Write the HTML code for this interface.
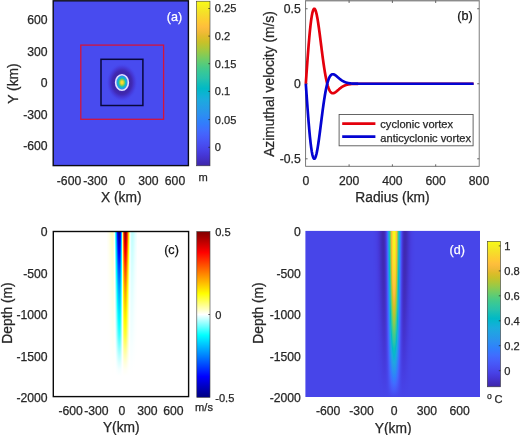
<!DOCTYPE html>
<html><head><meta charset="utf-8"><title>Figure</title>
<style>html,body{margin:0;padding:0;background:#fff}svg{display:block}text{stroke:#262626;stroke-width:0.25px;paint-order:stroke}text.w{stroke:#fff}text.k{stroke:#111}</style></head>
<body>
<svg width="520" height="435" viewBox="0 0 520 435" font-family="'Liberation Sans', Arial, sans-serif" fill="#262626" stroke="none">
<defs>
<radialGradient id="halo"><stop offset="0.36" stop-color="#4536d3"/><stop offset="0.50" stop-color="#3e26a8"/><stop offset="0.62" stop-color="#402ab4"/><stop offset="0.74" stop-color="#4536d3"/><stop offset="0.87" stop-color="#4745e9"/><stop offset="1" stop-color="#484bef" stop-opacity="0"/></radialGradient>
<radialGradient id="core"><stop offset="0" stop-color="#f6f020"/><stop offset="0.18" stop-color="#fad42e"/><stop offset="0.4" stop-color="#8dcb4f"/><stop offset="0.6" stop-color="#12beb9"/><stop offset="0.8" stop-color="#249fe6"/><stop offset="1" stop-color="#347afd"/></radialGradient>
<linearGradient id="cba" x1="0" y1="0" x2="0" y2="1"><stop offset="0.0000" stop-color="#f9fb15"/><stop offset="0.0312" stop-color="#f6ef20"/><stop offset="0.0625" stop-color="#f5e327"/><stop offset="0.0938" stop-color="#f9d62d"/><stop offset="0.1250" stop-color="#feca33"/><stop offset="0.1562" stop-color="#febe3c"/><stop offset="0.1875" stop-color="#f1ba37"/><stop offset="0.2188" stop-color="#debc2a"/><stop offset="0.2500" stop-color="#c8c129"/><stop offset="0.2812" stop-color="#afc637"/><stop offset="0.3125" stop-color="#94ca4a"/><stop offset="0.3438" stop-color="#77cc60"/><stop offset="0.3750" stop-color="#5ccc76"/><stop offset="0.4062" stop-color="#44ca8a"/><stop offset="0.4375" stop-color="#34c79c"/><stop offset="0.4688" stop-color="#28c2ab"/><stop offset="0.5000" stop-color="#12beb9"/><stop offset="0.5312" stop-color="#01b9c6"/><stop offset="0.5625" stop-color="#0cb3d3"/><stop offset="0.5938" stop-color="#1aacdd"/><stop offset="0.6250" stop-color="#21a3e3"/><stop offset="0.6562" stop-color="#269ae9"/><stop offset="0.6875" stop-color="#2c90f0"/><stop offset="0.7188" stop-color="#2e85f8"/><stop offset="0.7500" stop-color="#347afd"/><stop offset="0.7812" stop-color="#3f6efe"/><stop offset="0.8125" stop-color="#4562fc"/><stop offset="0.8438" stop-color="#4757f7"/><stop offset="0.8750" stop-color="#484cef"/><stop offset="0.9062" stop-color="#4741e5"/><stop offset="0.9375" stop-color="#4536d5"/><stop offset="0.9688" stop-color="#422ebf"/><stop offset="1.0000" stop-color="#3e26a8"/></linearGradient>
<linearGradient id="c7" x1="0" y1="0" x2="0" y2="1"><stop offset="0.0000" stop-color="#fffff6"/><stop offset="0.0417" stop-color="#fffff7"/><stop offset="0.0833" stop-color="#fffff8"/><stop offset="0.1250" stop-color="#fffff9"/><stop offset="0.1667" stop-color="#fffffa"/><stop offset="0.2083" stop-color="#fffffb"/><stop offset="0.2500" stop-color="#fffffb"/><stop offset="0.2917" stop-color="#fffffc"/><stop offset="0.3333" stop-color="#fffffc"/><stop offset="0.3750" stop-color="#fffffd"/><stop offset="0.4167" stop-color="#fffffd"/><stop offset="0.4583" stop-color="#fffffd"/><stop offset="0.5000" stop-color="#fffffe"/><stop offset="0.5417" stop-color="#fffffe"/><stop offset="0.5833" stop-color="#fffffe"/><stop offset="0.6250" stop-color="#fffffe"/><stop offset="0.6667" stop-color="#fffffe"/><stop offset="0.7083" stop-color="#ffffff"/><stop offset="0.7500" stop-color="#ffffff"/><stop offset="0.7917" stop-color="#ffffff"/><stop offset="0.8333" stop-color="#ffffff"/><stop offset="0.8750" stop-color="#ffffff"/><stop offset="0.9167" stop-color="#ffffff"/><stop offset="0.9583" stop-color="#ffffff"/><stop offset="1.0000" stop-color="#ffffff"/></linearGradient>
<linearGradient id="c8" x1="0" y1="0" x2="0" y2="1"><stop offset="0.0000" stop-color="#ffffee"/><stop offset="0.0417" stop-color="#fffff0"/><stop offset="0.0833" stop-color="#fffff2"/><stop offset="0.1250" stop-color="#fffff3"/><stop offset="0.1667" stop-color="#fffff5"/><stop offset="0.2083" stop-color="#fffff6"/><stop offset="0.2500" stop-color="#fffff7"/><stop offset="0.2917" stop-color="#fffff8"/><stop offset="0.3333" stop-color="#fffff9"/><stop offset="0.3750" stop-color="#fffffa"/><stop offset="0.4167" stop-color="#fffffb"/><stop offset="0.4583" stop-color="#fffffb"/><stop offset="0.5000" stop-color="#fffffc"/><stop offset="0.5417" stop-color="#fffffd"/><stop offset="0.5833" stop-color="#fffffd"/><stop offset="0.6250" stop-color="#fffffd"/><stop offset="0.6667" stop-color="#fffffe"/><stop offset="0.7083" stop-color="#fffffe"/><stop offset="0.7500" stop-color="#fffffe"/><stop offset="0.7917" stop-color="#ffffff"/><stop offset="0.8333" stop-color="#ffffff"/><stop offset="0.8750" stop-color="#ffffff"/><stop offset="0.9167" stop-color="#ffffff"/><stop offset="0.9583" stop-color="#ffffff"/><stop offset="1.0000" stop-color="#ffffff"/></linearGradient>
<linearGradient id="c9" x1="0" y1="0" x2="0" y2="1"><stop offset="0.0000" stop-color="#ffffe2"/><stop offset="0.0417" stop-color="#ffffe5"/><stop offset="0.0833" stop-color="#ffffe8"/><stop offset="0.1250" stop-color="#ffffea"/><stop offset="0.1667" stop-color="#ffffed"/><stop offset="0.2083" stop-color="#ffffef"/><stop offset="0.2500" stop-color="#fffff1"/><stop offset="0.2917" stop-color="#fffff3"/><stop offset="0.3333" stop-color="#fffff5"/><stop offset="0.3750" stop-color="#fffff6"/><stop offset="0.4167" stop-color="#fffff7"/><stop offset="0.4583" stop-color="#fffff8"/><stop offset="0.5000" stop-color="#fffff9"/><stop offset="0.5417" stop-color="#fffffa"/><stop offset="0.5833" stop-color="#fffffb"/><stop offset="0.6250" stop-color="#fffffc"/><stop offset="0.6667" stop-color="#fffffd"/><stop offset="0.7083" stop-color="#fffffd"/><stop offset="0.7500" stop-color="#fffffe"/><stop offset="0.7917" stop-color="#fffffe"/><stop offset="0.8333" stop-color="#ffffff"/><stop offset="0.8750" stop-color="#ffffff"/><stop offset="0.9167" stop-color="#ffffff"/><stop offset="0.9583" stop-color="#ffffff"/><stop offset="1.0000" stop-color="#ffffff"/></linearGradient>
<linearGradient id="c10" x1="0" y1="0" x2="0" y2="1"><stop offset="0.0000" stop-color="#ffffd2"/><stop offset="0.0417" stop-color="#ffffd6"/><stop offset="0.0833" stop-color="#ffffdb"/><stop offset="0.1250" stop-color="#ffffde"/><stop offset="0.1667" stop-color="#ffffe2"/><stop offset="0.2083" stop-color="#ffffe5"/><stop offset="0.2500" stop-color="#ffffe8"/><stop offset="0.2917" stop-color="#ffffeb"/><stop offset="0.3333" stop-color="#ffffee"/><stop offset="0.3750" stop-color="#fffff0"/><stop offset="0.4167" stop-color="#fffff2"/><stop offset="0.4583" stop-color="#fffff3"/><stop offset="0.5000" stop-color="#fffff5"/><stop offset="0.5417" stop-color="#fffff6"/><stop offset="0.5833" stop-color="#fffff8"/><stop offset="0.6250" stop-color="#fffff9"/><stop offset="0.6667" stop-color="#fffffa"/><stop offset="0.7083" stop-color="#fffffc"/><stop offset="0.7500" stop-color="#fffffd"/><stop offset="0.7917" stop-color="#fffffe"/><stop offset="0.8333" stop-color="#ffffff"/><stop offset="0.8750" stop-color="#ffffff"/><stop offset="0.9167" stop-color="#ffffff"/><stop offset="0.9583" stop-color="#ffffff"/><stop offset="1.0000" stop-color="#ffffff"/></linearGradient>
<linearGradient id="c11" x1="0" y1="0" x2="0" y2="1"><stop offset="0.0000" stop-color="#ffffc4"/><stop offset="0.0417" stop-color="#ffffc9"/><stop offset="0.0833" stop-color="#ffffce"/><stop offset="0.1250" stop-color="#ffffd2"/><stop offset="0.1667" stop-color="#ffffd7"/><stop offset="0.2083" stop-color="#ffffdb"/><stop offset="0.2500" stop-color="#ffffdf"/><stop offset="0.2917" stop-color="#ffffe3"/><stop offset="0.3333" stop-color="#ffffe6"/><stop offset="0.3750" stop-color="#ffffe9"/><stop offset="0.4167" stop-color="#ffffeb"/><stop offset="0.4583" stop-color="#ffffee"/><stop offset="0.5000" stop-color="#fffff0"/><stop offset="0.5417" stop-color="#fffff2"/><stop offset="0.5833" stop-color="#fffff4"/><stop offset="0.6250" stop-color="#fffff6"/><stop offset="0.6667" stop-color="#fffff8"/><stop offset="0.7083" stop-color="#fffffa"/><stop offset="0.7500" stop-color="#fffffc"/><stop offset="0.7917" stop-color="#fffffd"/><stop offset="0.8333" stop-color="#ffffff"/><stop offset="0.8750" stop-color="#ffffff"/><stop offset="0.9167" stop-color="#ffffff"/><stop offset="0.9583" stop-color="#ffffff"/><stop offset="1.0000" stop-color="#ffffff"/></linearGradient>
<linearGradient id="c12" x1="0" y1="0" x2="0" y2="1"><stop offset="0.0000" stop-color="#ffffbf"/><stop offset="0.0417" stop-color="#ffffc3"/><stop offset="0.0833" stop-color="#ffffc8"/><stop offset="0.1250" stop-color="#ffffcd"/><stop offset="0.1667" stop-color="#ffffd1"/><stop offset="0.2083" stop-color="#ffffd6"/><stop offset="0.2500" stop-color="#ffffda"/><stop offset="0.2917" stop-color="#ffffdd"/><stop offset="0.3333" stop-color="#ffffe1"/><stop offset="0.3750" stop-color="#ffffe4"/><stop offset="0.4167" stop-color="#ffffe7"/><stop offset="0.4583" stop-color="#ffffe9"/><stop offset="0.5000" stop-color="#ffffec"/><stop offset="0.5417" stop-color="#ffffee"/><stop offset="0.5833" stop-color="#fffff1"/><stop offset="0.6250" stop-color="#fffff3"/><stop offset="0.6667" stop-color="#fffff5"/><stop offset="0.7083" stop-color="#fffff8"/><stop offset="0.7500" stop-color="#fffffb"/><stop offset="0.7917" stop-color="#fffffd"/><stop offset="0.8333" stop-color="#fffffe"/><stop offset="0.8750" stop-color="#ffffff"/><stop offset="0.9167" stop-color="#ffffff"/><stop offset="0.9583" stop-color="#ffffff"/><stop offset="1.0000" stop-color="#ffffff"/></linearGradient>
<linearGradient id="c13" x1="0" y1="0" x2="0" y2="1"><stop offset="0.0000" stop-color="#ffffd1"/><stop offset="0.0417" stop-color="#ffffd3"/><stop offset="0.0833" stop-color="#ffffd5"/><stop offset="0.1250" stop-color="#ffffd8"/><stop offset="0.1667" stop-color="#ffffda"/><stop offset="0.2083" stop-color="#ffffdd"/><stop offset="0.2500" stop-color="#ffffe0"/><stop offset="0.2917" stop-color="#ffffe2"/><stop offset="0.3333" stop-color="#ffffe5"/><stop offset="0.3750" stop-color="#ffffe7"/><stop offset="0.4167" stop-color="#ffffe9"/><stop offset="0.4583" stop-color="#ffffeb"/><stop offset="0.5000" stop-color="#ffffed"/><stop offset="0.5417" stop-color="#ffffef"/><stop offset="0.5833" stop-color="#fffff1"/><stop offset="0.6250" stop-color="#fffff3"/><stop offset="0.6667" stop-color="#fffff5"/><stop offset="0.7083" stop-color="#fffff8"/><stop offset="0.7500" stop-color="#fffffa"/><stop offset="0.7917" stop-color="#fffffc"/><stop offset="0.8333" stop-color="#fffffe"/><stop offset="0.8750" stop-color="#ffffff"/><stop offset="0.9167" stop-color="#ffffff"/><stop offset="0.9583" stop-color="#ffffff"/><stop offset="1.0000" stop-color="#ffffff"/></linearGradient>
<linearGradient id="c14" x1="0" y1="0" x2="0" y2="1"><stop offset="0.0000" stop-color="#edffff"/><stop offset="0.0417" stop-color="#f4ffff"/><stop offset="0.0833" stop-color="#faffff"/><stop offset="0.1250" stop-color="#ffffff"/><stop offset="0.1667" stop-color="#fffffd"/><stop offset="0.2083" stop-color="#fffffb"/><stop offset="0.2500" stop-color="#fffffa"/><stop offset="0.2917" stop-color="#fffff9"/><stop offset="0.3333" stop-color="#fffff9"/><stop offset="0.3750" stop-color="#fffff8"/><stop offset="0.4167" stop-color="#fffff8"/><stop offset="0.4583" stop-color="#fffff8"/><stop offset="0.5000" stop-color="#fffff8"/><stop offset="0.5417" stop-color="#fffff8"/><stop offset="0.5833" stop-color="#fffff8"/><stop offset="0.6250" stop-color="#fffff9"/><stop offset="0.6667" stop-color="#fffffa"/><stop offset="0.7083" stop-color="#fffffb"/><stop offset="0.7500" stop-color="#fffffc"/><stop offset="0.7917" stop-color="#fffffd"/><stop offset="0.8333" stop-color="#ffffff"/><stop offset="0.8750" stop-color="#ffffff"/><stop offset="0.9167" stop-color="#ffffff"/><stop offset="0.9583" stop-color="#ffffff"/><stop offset="1.0000" stop-color="#ffffff"/></linearGradient>
<linearGradient id="c15" x1="0" y1="0" x2="0" y2="1"><stop offset="0.0000" stop-color="#27ffff"/><stop offset="0.0417" stop-color="#3fffff"/><stop offset="0.0833" stop-color="#55ffff"/><stop offset="0.1250" stop-color="#6affff"/><stop offset="0.1667" stop-color="#7dffff"/><stop offset="0.2083" stop-color="#8fffff"/><stop offset="0.2500" stop-color="#9effff"/><stop offset="0.2917" stop-color="#acffff"/><stop offset="0.3333" stop-color="#b8ffff"/><stop offset="0.3750" stop-color="#c3ffff"/><stop offset="0.4167" stop-color="#ccffff"/><stop offset="0.4583" stop-color="#d4ffff"/><stop offset="0.5000" stop-color="#dbffff"/><stop offset="0.5417" stop-color="#e1ffff"/><stop offset="0.5833" stop-color="#e7ffff"/><stop offset="0.6250" stop-color="#ecffff"/><stop offset="0.6667" stop-color="#f1ffff"/><stop offset="0.7083" stop-color="#f6ffff"/><stop offset="0.7500" stop-color="#faffff"/><stop offset="0.7917" stop-color="#fcffff"/><stop offset="0.8333" stop-color="#feffff"/><stop offset="0.8750" stop-color="#ffffff"/><stop offset="0.9167" stop-color="#ffffff"/><stop offset="0.9583" stop-color="#ffffff"/><stop offset="1.0000" stop-color="#ffffff"/></linearGradient>
<linearGradient id="c16" x1="0" y1="0" x2="0" y2="1"><stop offset="0.0000" stop-color="#008cff"/><stop offset="0.0417" stop-color="#00a2ff"/><stop offset="0.0833" stop-color="#00b7ff"/><stop offset="0.1250" stop-color="#00cbff"/><stop offset="0.1667" stop-color="#00deff"/><stop offset="0.2083" stop-color="#00f1ff"/><stop offset="0.2500" stop-color="#03ffff"/><stop offset="0.2917" stop-color="#20ffff"/><stop offset="0.3333" stop-color="#3cffff"/><stop offset="0.3750" stop-color="#54ffff"/><stop offset="0.4167" stop-color="#68ffff"/><stop offset="0.4583" stop-color="#7bffff"/><stop offset="0.5000" stop-color="#8dffff"/><stop offset="0.5417" stop-color="#9cffff"/><stop offset="0.5833" stop-color="#abffff"/><stop offset="0.6250" stop-color="#b8ffff"/><stop offset="0.6667" stop-color="#c9ffff"/><stop offset="0.7083" stop-color="#d9ffff"/><stop offset="0.7500" stop-color="#e7ffff"/><stop offset="0.7917" stop-color="#f3ffff"/><stop offset="0.8333" stop-color="#fbffff"/><stop offset="0.8750" stop-color="#ffffff"/><stop offset="0.9167" stop-color="#ffffff"/><stop offset="0.9583" stop-color="#ffffff"/><stop offset="1.0000" stop-color="#ffffff"/></linearGradient>
<linearGradient id="c17" x1="0" y1="0" x2="0" y2="1"><stop offset="0.0000" stop-color="#0000fd"/><stop offset="0.0417" stop-color="#001eff"/><stop offset="0.0833" stop-color="#003dff"/><stop offset="0.1250" stop-color="#005bff"/><stop offset="0.1667" stop-color="#0077ff"/><stop offset="0.2083" stop-color="#0093ff"/><stop offset="0.2500" stop-color="#00abff"/><stop offset="0.2917" stop-color="#00c1ff"/><stop offset="0.3333" stop-color="#00d7ff"/><stop offset="0.3750" stop-color="#00eaff"/><stop offset="0.4167" stop-color="#00f9ff"/><stop offset="0.4583" stop-color="#13ffff"/><stop offset="0.5000" stop-color="#31ffff"/><stop offset="0.5417" stop-color="#4affff"/><stop offset="0.5833" stop-color="#63ffff"/><stop offset="0.6250" stop-color="#7bffff"/><stop offset="0.6667" stop-color="#99ffff"/><stop offset="0.7083" stop-color="#b6ffff"/><stop offset="0.7500" stop-color="#d0ffff"/><stop offset="0.7917" stop-color="#e6ffff"/><stop offset="0.8333" stop-color="#f8ffff"/><stop offset="0.8750" stop-color="#ffffff"/><stop offset="0.9167" stop-color="#ffffff"/><stop offset="0.9583" stop-color="#ffffff"/><stop offset="1.0000" stop-color="#ffffff"/></linearGradient>
<linearGradient id="c18" x1="0" y1="0" x2="0" y2="1"><stop offset="0.0000" stop-color="#000096"/><stop offset="0.0417" stop-color="#0000bc"/><stop offset="0.0833" stop-color="#0000e2"/><stop offset="0.1250" stop-color="#0006ff"/><stop offset="0.1667" stop-color="#0029ff"/><stop offset="0.2083" stop-color="#004bff"/><stop offset="0.2500" stop-color="#0069ff"/><stop offset="0.2917" stop-color="#0085ff"/><stop offset="0.3333" stop-color="#00a0ff"/><stop offset="0.3750" stop-color="#00b8ff"/><stop offset="0.4167" stop-color="#00cbff"/><stop offset="0.4583" stop-color="#00dfff"/><stop offset="0.5000" stop-color="#00f2ff"/><stop offset="0.5417" stop-color="#06ffff"/><stop offset="0.5833" stop-color="#26ffff"/><stop offset="0.6250" stop-color="#46ffff"/><stop offset="0.6667" stop-color="#6fffff"/><stop offset="0.7083" stop-color="#98ffff"/><stop offset="0.7500" stop-color="#bcffff"/><stop offset="0.7917" stop-color="#dbffff"/><stop offset="0.8333" stop-color="#f4ffff"/><stop offset="0.8750" stop-color="#ffffff"/><stop offset="0.9167" stop-color="#ffffff"/><stop offset="0.9583" stop-color="#ffffff"/><stop offset="1.0000" stop-color="#ffffff"/></linearGradient>
<linearGradient id="c19" x1="0" y1="0" x2="0" y2="1"><stop offset="0.0000" stop-color="#000086"/><stop offset="0.0417" stop-color="#0000ab"/><stop offset="0.0833" stop-color="#0000d1"/><stop offset="0.1250" stop-color="#0000f4"/><stop offset="0.1667" stop-color="#0018ff"/><stop offset="0.2083" stop-color="#003bff"/><stop offset="0.2500" stop-color="#0059ff"/><stop offset="0.2917" stop-color="#0075ff"/><stop offset="0.3333" stop-color="#0091ff"/><stop offset="0.3750" stop-color="#00a9ff"/><stop offset="0.4167" stop-color="#00beff"/><stop offset="0.4583" stop-color="#00d2ff"/><stop offset="0.5000" stop-color="#00e6ff"/><stop offset="0.5417" stop-color="#00f7ff"/><stop offset="0.5833" stop-color="#11ffff"/><stop offset="0.6250" stop-color="#33ffff"/><stop offset="0.6667" stop-color="#60ffff"/><stop offset="0.7083" stop-color="#8cffff"/><stop offset="0.7500" stop-color="#b4ffff"/><stop offset="0.7917" stop-color="#d7ffff"/><stop offset="0.8333" stop-color="#f3ffff"/><stop offset="0.8750" stop-color="#ffffff"/><stop offset="0.9167" stop-color="#ffffff"/><stop offset="0.9583" stop-color="#ffffff"/><stop offset="1.0000" stop-color="#ffffff"/></linearGradient>
<linearGradient id="c20" x1="0" y1="0" x2="0" y2="1"><stop offset="0.0000" stop-color="#0000e7"/><stop offset="0.0417" stop-color="#0005ff"/><stop offset="0.0833" stop-color="#0023ff"/><stop offset="0.1250" stop-color="#003fff"/><stop offset="0.1667" stop-color="#005bff"/><stop offset="0.2083" stop-color="#0076ff"/><stop offset="0.2500" stop-color="#008eff"/><stop offset="0.2917" stop-color="#00a5ff"/><stop offset="0.3333" stop-color="#00bbff"/><stop offset="0.3750" stop-color="#00cfff"/><stop offset="0.4167" stop-color="#00dfff"/><stop offset="0.4583" stop-color="#00efff"/><stop offset="0.5000" stop-color="#01ffff"/><stop offset="0.5417" stop-color="#1cffff"/><stop offset="0.5833" stop-color="#38ffff"/><stop offset="0.6250" stop-color="#54ffff"/><stop offset="0.6667" stop-color="#79ffff"/><stop offset="0.7083" stop-color="#9effff"/><stop offset="0.7500" stop-color="#bfffff"/><stop offset="0.7917" stop-color="#ddffff"/><stop offset="0.8333" stop-color="#f5ffff"/><stop offset="0.8750" stop-color="#ffffff"/><stop offset="0.9167" stop-color="#ffffff"/><stop offset="0.9583" stop-color="#ffffff"/><stop offset="1.0000" stop-color="#ffffff"/></linearGradient>
<linearGradient id="c21" x1="0" y1="0" x2="0" y2="1"><stop offset="0.0000" stop-color="#00b2ff"/><stop offset="0.0417" stop-color="#00c0ff"/><stop offset="0.0833" stop-color="#00cfff"/><stop offset="0.1250" stop-color="#00ddff"/><stop offset="0.1667" stop-color="#00ebff"/><stop offset="0.2083" stop-color="#00f8ff"/><stop offset="0.2500" stop-color="#0bffff"/><stop offset="0.2917" stop-color="#21ffff"/><stop offset="0.3333" stop-color="#38ffff"/><stop offset="0.3750" stop-color="#4bffff"/><stop offset="0.4167" stop-color="#5cffff"/><stop offset="0.4583" stop-color="#6cffff"/><stop offset="0.5000" stop-color="#7dffff"/><stop offset="0.5417" stop-color="#8bffff"/><stop offset="0.5833" stop-color="#99ffff"/><stop offset="0.6250" stop-color="#a7ffff"/><stop offset="0.6667" stop-color="#baffff"/><stop offset="0.7083" stop-color="#cdffff"/><stop offset="0.7500" stop-color="#deffff"/><stop offset="0.7917" stop-color="#edffff"/><stop offset="0.8333" stop-color="#faffff"/><stop offset="0.8750" stop-color="#ffffff"/><stop offset="0.9167" stop-color="#ffffff"/><stop offset="0.9583" stop-color="#ffffff"/><stop offset="1.0000" stop-color="#ffffff"/></linearGradient>
<linearGradient id="c22" x1="0" y1="0" x2="0" y2="1"><stop offset="0.0000" stop-color="#ffff96"/><stop offset="0.0417" stop-color="#ffff9d"/><stop offset="0.0833" stop-color="#ffffa5"/><stop offset="0.1250" stop-color="#ffffac"/><stop offset="0.1667" stop-color="#ffffb3"/><stop offset="0.2083" stop-color="#ffffba"/><stop offset="0.2500" stop-color="#ffffc0"/><stop offset="0.2917" stop-color="#ffffc6"/><stop offset="0.3333" stop-color="#ffffcc"/><stop offset="0.3750" stop-color="#ffffd1"/><stop offset="0.4167" stop-color="#ffffd5"/><stop offset="0.4583" stop-color="#ffffd9"/><stop offset="0.5000" stop-color="#ffffdd"/><stop offset="0.5417" stop-color="#ffffe1"/><stop offset="0.5833" stop-color="#ffffe5"/><stop offset="0.6250" stop-color="#ffffe8"/><stop offset="0.6667" stop-color="#ffffed"/><stop offset="0.7083" stop-color="#fffff2"/><stop offset="0.7500" stop-color="#fffff6"/><stop offset="0.7917" stop-color="#fffffa"/><stop offset="0.8333" stop-color="#fffffe"/><stop offset="0.8750" stop-color="#ffffff"/><stop offset="0.9167" stop-color="#ffffff"/><stop offset="0.9583" stop-color="#ffffff"/><stop offset="1.0000" stop-color="#ffffff"/></linearGradient>
<linearGradient id="c23" x1="0" y1="0" x2="0" y2="1"><stop offset="0.0000" stop-color="#ff5700"/><stop offset="0.0417" stop-color="#ff6c00"/><stop offset="0.0833" stop-color="#ff8100"/><stop offset="0.1250" stop-color="#ff9500"/><stop offset="0.1667" stop-color="#ffa900"/><stop offset="0.2083" stop-color="#ffbd00"/><stop offset="0.2500" stop-color="#ffcf00"/><stop offset="0.2917" stop-color="#ffdf00"/><stop offset="0.3333" stop-color="#ffef00"/><stop offset="0.3750" stop-color="#fffd00"/><stop offset="0.4167" stop-color="#ffff14"/><stop offset="0.4583" stop-color="#ffff2c"/><stop offset="0.5000" stop-color="#ffff44"/><stop offset="0.5417" stop-color="#ffff58"/><stop offset="0.5833" stop-color="#ffff6c"/><stop offset="0.6250" stop-color="#ffff81"/><stop offset="0.6667" stop-color="#ffff9c"/><stop offset="0.7083" stop-color="#ffffb7"/><stop offset="0.7500" stop-color="#ffffd0"/><stop offset="0.7917" stop-color="#ffffe6"/><stop offset="0.8333" stop-color="#fffff7"/><stop offset="0.8750" stop-color="#ffffff"/><stop offset="0.9167" stop-color="#ffffff"/><stop offset="0.9583" stop-color="#ffffff"/><stop offset="1.0000" stop-color="#ffffff"/></linearGradient>
<linearGradient id="c24" x1="0" y1="0" x2="0" y2="1"><stop offset="0.0000" stop-color="#b20000"/><stop offset="0.0417" stop-color="#d40000"/><stop offset="0.0833" stop-color="#f50000"/><stop offset="0.1250" stop-color="#ff1600"/><stop offset="0.1667" stop-color="#ff3600"/><stop offset="0.2083" stop-color="#ff5500"/><stop offset="0.2500" stop-color="#ff7000"/><stop offset="0.2917" stop-color="#ff8a00"/><stop offset="0.3333" stop-color="#ffa300"/><stop offset="0.3750" stop-color="#ffb900"/><stop offset="0.4167" stop-color="#ffcc00"/><stop offset="0.4583" stop-color="#ffde00"/><stop offset="0.5000" stop-color="#fff000"/><stop offset="0.5417" stop-color="#ffff02"/><stop offset="0.5833" stop-color="#ffff21"/><stop offset="0.6250" stop-color="#ffff40"/><stop offset="0.6667" stop-color="#ffff6a"/><stop offset="0.7083" stop-color="#ffff93"/><stop offset="0.7500" stop-color="#ffffb8"/><stop offset="0.7917" stop-color="#ffffd9"/><stop offset="0.8333" stop-color="#fffff4"/><stop offset="0.8750" stop-color="#ffffff"/><stop offset="0.9167" stop-color="#ffffff"/><stop offset="0.9583" stop-color="#ffffff"/><stop offset="1.0000" stop-color="#ffffff"/></linearGradient>
<linearGradient id="c25" x1="0" y1="0" x2="0" y2="1"><stop offset="0.0000" stop-color="#800000"/><stop offset="0.0417" stop-color="#a60000"/><stop offset="0.0833" stop-color="#cc0000"/><stop offset="0.1250" stop-color="#f10000"/><stop offset="0.1667" stop-color="#ff1600"/><stop offset="0.2083" stop-color="#ff3900"/><stop offset="0.2500" stop-color="#ff5800"/><stop offset="0.2917" stop-color="#ff7400"/><stop offset="0.3333" stop-color="#ff9100"/><stop offset="0.3750" stop-color="#ffa900"/><stop offset="0.4167" stop-color="#ffbe00"/><stop offset="0.4583" stop-color="#ffd200"/><stop offset="0.5000" stop-color="#ffe700"/><stop offset="0.5417" stop-color="#fff800"/><stop offset="0.5833" stop-color="#ffff13"/><stop offset="0.6250" stop-color="#ffff35"/><stop offset="0.6667" stop-color="#ffff61"/><stop offset="0.7083" stop-color="#ffff8e"/><stop offset="0.7500" stop-color="#ffffb5"/><stop offset="0.7917" stop-color="#ffffd8"/><stop offset="0.8333" stop-color="#fffff3"/><stop offset="0.8750" stop-color="#ffffff"/><stop offset="0.9167" stop-color="#ffffff"/><stop offset="0.9583" stop-color="#ffffff"/><stop offset="1.0000" stop-color="#ffffff"/></linearGradient>
<linearGradient id="c26" x1="0" y1="0" x2="0" y2="1"><stop offset="0.0000" stop-color="#b80000"/><stop offset="0.0417" stop-color="#dc0000"/><stop offset="0.0833" stop-color="#ff0000"/><stop offset="0.1250" stop-color="#ff2200"/><stop offset="0.1667" stop-color="#ff4300"/><stop offset="0.2083" stop-color="#ff6300"/><stop offset="0.2500" stop-color="#ff7f00"/><stop offset="0.2917" stop-color="#ff9900"/><stop offset="0.3333" stop-color="#ffb300"/><stop offset="0.3750" stop-color="#ffc900"/><stop offset="0.4167" stop-color="#ffdb00"/><stop offset="0.4583" stop-color="#ffed00"/><stop offset="0.5000" stop-color="#ffff00"/><stop offset="0.5417" stop-color="#ffff1e"/><stop offset="0.5833" stop-color="#ffff3b"/><stop offset="0.6250" stop-color="#ffff58"/><stop offset="0.6667" stop-color="#ffff7e"/><stop offset="0.7083" stop-color="#ffffa2"/><stop offset="0.7500" stop-color="#ffffc3"/><stop offset="0.7917" stop-color="#ffffdf"/><stop offset="0.8333" stop-color="#fffff5"/><stop offset="0.8750" stop-color="#ffffff"/><stop offset="0.9167" stop-color="#ffffff"/><stop offset="0.9583" stop-color="#ffffff"/><stop offset="1.0000" stop-color="#ffffff"/></linearGradient>
<linearGradient id="c27" x1="0" y1="0" x2="0" y2="1"><stop offset="0.0000" stop-color="#ff3500"/><stop offset="0.0417" stop-color="#ff5100"/><stop offset="0.0833" stop-color="#ff6d00"/><stop offset="0.1250" stop-color="#ff8700"/><stop offset="0.1667" stop-color="#ffa000"/><stop offset="0.2083" stop-color="#ffb800"/><stop offset="0.2500" stop-color="#ffcd00"/><stop offset="0.2917" stop-color="#ffe000"/><stop offset="0.3333" stop-color="#fff300"/><stop offset="0.3750" stop-color="#ffff08"/><stop offset="0.4167" stop-color="#ffff22"/><stop offset="0.4583" stop-color="#ffff3d"/><stop offset="0.5000" stop-color="#ffff56"/><stop offset="0.5417" stop-color="#ffff6b"/><stop offset="0.5833" stop-color="#ffff80"/><stop offset="0.6250" stop-color="#ffff94"/><stop offset="0.6667" stop-color="#ffffac"/><stop offset="0.7083" stop-color="#ffffc4"/><stop offset="0.7500" stop-color="#ffffd9"/><stop offset="0.7917" stop-color="#ffffeb"/><stop offset="0.8333" stop-color="#fffff9"/><stop offset="0.8750" stop-color="#ffffff"/><stop offset="0.9167" stop-color="#ffffff"/><stop offset="0.9583" stop-color="#ffffff"/><stop offset="1.0000" stop-color="#ffffff"/></linearGradient>
<linearGradient id="c28" x1="0" y1="0" x2="0" y2="1"><stop offset="0.0000" stop-color="#ffc500"/><stop offset="0.0417" stop-color="#ffd600"/><stop offset="0.0833" stop-color="#ffe800"/><stop offset="0.1250" stop-color="#fff800"/><stop offset="0.1667" stop-color="#ffff10"/><stop offset="0.2083" stop-color="#ffff2d"/><stop offset="0.2500" stop-color="#ffff46"/><stop offset="0.2917" stop-color="#ffff5c"/><stop offset="0.3333" stop-color="#ffff72"/><stop offset="0.3750" stop-color="#ffff84"/><stop offset="0.4167" stop-color="#ffff93"/><stop offset="0.4583" stop-color="#ffffa1"/><stop offset="0.5000" stop-color="#ffffaf"/><stop offset="0.5417" stop-color="#ffffba"/><stop offset="0.5833" stop-color="#ffffc5"/><stop offset="0.6250" stop-color="#ffffcf"/><stop offset="0.6667" stop-color="#ffffdb"/><stop offset="0.7083" stop-color="#ffffe6"/><stop offset="0.7500" stop-color="#ffffef"/><stop offset="0.7917" stop-color="#fffff7"/><stop offset="0.8333" stop-color="#fffffd"/><stop offset="0.8750" stop-color="#ffffff"/><stop offset="0.9167" stop-color="#ffffff"/><stop offset="0.9583" stop-color="#ffffff"/><stop offset="1.0000" stop-color="#ffffff"/></linearGradient>
<linearGradient id="c29" x1="0" y1="0" x2="0" y2="1"><stop offset="0.0000" stop-color="#ffff81"/><stop offset="0.0417" stop-color="#ffff91"/><stop offset="0.0833" stop-color="#ffffa0"/><stop offset="0.1250" stop-color="#ffffae"/><stop offset="0.1667" stop-color="#ffffba"/><stop offset="0.2083" stop-color="#ffffc6"/><stop offset="0.2500" stop-color="#ffffcf"/><stop offset="0.2917" stop-color="#ffffd8"/><stop offset="0.3333" stop-color="#ffffdf"/><stop offset="0.3750" stop-color="#ffffe5"/><stop offset="0.4167" stop-color="#ffffeb"/><stop offset="0.4583" stop-color="#ffffef"/><stop offset="0.5000" stop-color="#fffff3"/><stop offset="0.5417" stop-color="#fffff6"/><stop offset="0.5833" stop-color="#fffff9"/><stop offset="0.6250" stop-color="#fffffb"/><stop offset="0.6667" stop-color="#fffffd"/><stop offset="0.7083" stop-color="#fffffe"/><stop offset="0.7500" stop-color="#ffffff"/><stop offset="0.7917" stop-color="#ffffff"/><stop offset="0.8333" stop-color="#ffffff"/><stop offset="0.8750" stop-color="#ffffff"/><stop offset="0.9167" stop-color="#ffffff"/><stop offset="0.9583" stop-color="#ffffff"/><stop offset="1.0000" stop-color="#ffffff"/></linearGradient>
<linearGradient id="c30" x1="0" y1="0" x2="0" y2="1"><stop offset="0.0000" stop-color="#edffff"/><stop offset="0.0417" stop-color="#ecffff"/><stop offset="0.0833" stop-color="#ebffff"/><stop offset="0.1250" stop-color="#ebffff"/><stop offset="0.1667" stop-color="#ebffff"/><stop offset="0.2083" stop-color="#ecffff"/><stop offset="0.2500" stop-color="#edffff"/><stop offset="0.2917" stop-color="#edffff"/><stop offset="0.3333" stop-color="#eeffff"/><stop offset="0.3750" stop-color="#efffff"/><stop offset="0.4167" stop-color="#f0ffff"/><stop offset="0.4583" stop-color="#f1ffff"/><stop offset="0.5000" stop-color="#f2ffff"/><stop offset="0.5417" stop-color="#f3ffff"/><stop offset="0.5833" stop-color="#f4ffff"/><stop offset="0.6250" stop-color="#f5ffff"/><stop offset="0.6667" stop-color="#f7ffff"/><stop offset="0.7083" stop-color="#f9ffff"/><stop offset="0.7500" stop-color="#fbffff"/><stop offset="0.7917" stop-color="#fdffff"/><stop offset="0.8333" stop-color="#feffff"/><stop offset="0.8750" stop-color="#ffffff"/><stop offset="0.9167" stop-color="#ffffff"/><stop offset="0.9583" stop-color="#ffffff"/><stop offset="1.0000" stop-color="#ffffff"/></linearGradient>
<linearGradient id="c31" x1="0" y1="0" x2="0" y2="1"><stop offset="0.0000" stop-color="#c6ffff"/><stop offset="0.0417" stop-color="#c9ffff"/><stop offset="0.0833" stop-color="#cdffff"/><stop offset="0.1250" stop-color="#d1ffff"/><stop offset="0.1667" stop-color="#d4ffff"/><stop offset="0.2083" stop-color="#d8ffff"/><stop offset="0.2500" stop-color="#dbffff"/><stop offset="0.2917" stop-color="#deffff"/><stop offset="0.3333" stop-color="#e2ffff"/><stop offset="0.3750" stop-color="#e4ffff"/><stop offset="0.4167" stop-color="#e7ffff"/><stop offset="0.4583" stop-color="#e9ffff"/><stop offset="0.5000" stop-color="#ecffff"/><stop offset="0.5417" stop-color="#eeffff"/><stop offset="0.5833" stop-color="#f0ffff"/><stop offset="0.6250" stop-color="#f2ffff"/><stop offset="0.6667" stop-color="#f5ffff"/><stop offset="0.7083" stop-color="#f8ffff"/><stop offset="0.7500" stop-color="#faffff"/><stop offset="0.7917" stop-color="#fcffff"/><stop offset="0.8333" stop-color="#feffff"/><stop offset="0.8750" stop-color="#ffffff"/><stop offset="0.9167" stop-color="#ffffff"/><stop offset="0.9583" stop-color="#ffffff"/><stop offset="1.0000" stop-color="#ffffff"/></linearGradient>
<linearGradient id="c32" x1="0" y1="0" x2="0" y2="1"><stop offset="0.0000" stop-color="#bfffff"/><stop offset="0.0417" stop-color="#c4ffff"/><stop offset="0.0833" stop-color="#c9ffff"/><stop offset="0.1250" stop-color="#ceffff"/><stop offset="0.1667" stop-color="#d2ffff"/><stop offset="0.2083" stop-color="#d7ffff"/><stop offset="0.2500" stop-color="#dbffff"/><stop offset="0.2917" stop-color="#dfffff"/><stop offset="0.3333" stop-color="#e2ffff"/><stop offset="0.3750" stop-color="#e5ffff"/><stop offset="0.4167" stop-color="#e8ffff"/><stop offset="0.4583" stop-color="#ebffff"/><stop offset="0.5000" stop-color="#edffff"/><stop offset="0.5417" stop-color="#f0ffff"/><stop offset="0.5833" stop-color="#f2ffff"/><stop offset="0.6250" stop-color="#f4ffff"/><stop offset="0.6667" stop-color="#f6ffff"/><stop offset="0.7083" stop-color="#f9ffff"/><stop offset="0.7500" stop-color="#fbffff"/><stop offset="0.7917" stop-color="#fdffff"/><stop offset="0.8333" stop-color="#feffff"/><stop offset="0.8750" stop-color="#ffffff"/><stop offset="0.9167" stop-color="#ffffff"/><stop offset="0.9583" stop-color="#ffffff"/><stop offset="1.0000" stop-color="#ffffff"/></linearGradient>
<linearGradient id="c33" x1="0" y1="0" x2="0" y2="1"><stop offset="0.0000" stop-color="#c9ffff"/><stop offset="0.0417" stop-color="#ceffff"/><stop offset="0.0833" stop-color="#d2ffff"/><stop offset="0.1250" stop-color="#d7ffff"/><stop offset="0.1667" stop-color="#dbffff"/><stop offset="0.2083" stop-color="#dfffff"/><stop offset="0.2500" stop-color="#e3ffff"/><stop offset="0.2917" stop-color="#e6ffff"/><stop offset="0.3333" stop-color="#e9ffff"/><stop offset="0.3750" stop-color="#ecffff"/><stop offset="0.4167" stop-color="#eeffff"/><stop offset="0.4583" stop-color="#f0ffff"/><stop offset="0.5000" stop-color="#f2ffff"/><stop offset="0.5417" stop-color="#f4ffff"/><stop offset="0.5833" stop-color="#f5ffff"/><stop offset="0.6250" stop-color="#f7ffff"/><stop offset="0.6667" stop-color="#f9ffff"/><stop offset="0.7083" stop-color="#fbffff"/><stop offset="0.7500" stop-color="#fcffff"/><stop offset="0.7917" stop-color="#feffff"/><stop offset="0.8333" stop-color="#ffffff"/><stop offset="0.8750" stop-color="#ffffff"/><stop offset="0.9167" stop-color="#ffffff"/><stop offset="0.9583" stop-color="#ffffff"/><stop offset="1.0000" stop-color="#ffffff"/></linearGradient>
<linearGradient id="c34" x1="0" y1="0" x2="0" y2="1"><stop offset="0.0000" stop-color="#d9ffff"/><stop offset="0.0417" stop-color="#dcffff"/><stop offset="0.0833" stop-color="#e0ffff"/><stop offset="0.1250" stop-color="#e3ffff"/><stop offset="0.1667" stop-color="#e7ffff"/><stop offset="0.2083" stop-color="#eaffff"/><stop offset="0.2500" stop-color="#ecffff"/><stop offset="0.2917" stop-color="#eeffff"/><stop offset="0.3333" stop-color="#f1ffff"/><stop offset="0.3750" stop-color="#f3ffff"/><stop offset="0.4167" stop-color="#f4ffff"/><stop offset="0.4583" stop-color="#f6ffff"/><stop offset="0.5000" stop-color="#f7ffff"/><stop offset="0.5417" stop-color="#f8ffff"/><stop offset="0.5833" stop-color="#f9ffff"/><stop offset="0.6250" stop-color="#faffff"/><stop offset="0.6667" stop-color="#fbffff"/><stop offset="0.7083" stop-color="#fcffff"/><stop offset="0.7500" stop-color="#fdffff"/><stop offset="0.7917" stop-color="#feffff"/><stop offset="0.8333" stop-color="#ffffff"/><stop offset="0.8750" stop-color="#ffffff"/><stop offset="0.9167" stop-color="#ffffff"/><stop offset="0.9583" stop-color="#ffffff"/><stop offset="1.0000" stop-color="#ffffff"/></linearGradient>
<linearGradient id="c35" x1="0" y1="0" x2="0" y2="1"><stop offset="0.0000" stop-color="#e7ffff"/><stop offset="0.0417" stop-color="#eaffff"/><stop offset="0.0833" stop-color="#ecffff"/><stop offset="0.1250" stop-color="#eeffff"/><stop offset="0.1667" stop-color="#f0ffff"/><stop offset="0.2083" stop-color="#f2ffff"/><stop offset="0.2500" stop-color="#f4ffff"/><stop offset="0.2917" stop-color="#f5ffff"/><stop offset="0.3333" stop-color="#f7ffff"/><stop offset="0.3750" stop-color="#f8ffff"/><stop offset="0.4167" stop-color="#f9ffff"/><stop offset="0.4583" stop-color="#faffff"/><stop offset="0.5000" stop-color="#fbffff"/><stop offset="0.5417" stop-color="#fbffff"/><stop offset="0.5833" stop-color="#fcffff"/><stop offset="0.6250" stop-color="#fcffff"/><stop offset="0.6667" stop-color="#fdffff"/><stop offset="0.7083" stop-color="#feffff"/><stop offset="0.7500" stop-color="#feffff"/><stop offset="0.7917" stop-color="#ffffff"/><stop offset="0.8333" stop-color="#ffffff"/><stop offset="0.8750" stop-color="#ffffff"/><stop offset="0.9167" stop-color="#ffffff"/><stop offset="0.9583" stop-color="#ffffff"/><stop offset="1.0000" stop-color="#ffffff"/></linearGradient>
<linearGradient id="c36" x1="0" y1="0" x2="0" y2="1"><stop offset="0.0000" stop-color="#f2ffff"/><stop offset="0.0417" stop-color="#f3ffff"/><stop offset="0.0833" stop-color="#f5ffff"/><stop offset="0.1250" stop-color="#f6ffff"/><stop offset="0.1667" stop-color="#f7ffff"/><stop offset="0.2083" stop-color="#f8ffff"/><stop offset="0.2500" stop-color="#f9ffff"/><stop offset="0.2917" stop-color="#faffff"/><stop offset="0.3333" stop-color="#fbffff"/><stop offset="0.3750" stop-color="#fbffff"/><stop offset="0.4167" stop-color="#fcffff"/><stop offset="0.4583" stop-color="#fcffff"/><stop offset="0.5000" stop-color="#fdffff"/><stop offset="0.5417" stop-color="#fdffff"/><stop offset="0.5833" stop-color="#fdffff"/><stop offset="0.6250" stop-color="#feffff"/><stop offset="0.6667" stop-color="#feffff"/><stop offset="0.7083" stop-color="#feffff"/><stop offset="0.7500" stop-color="#ffffff"/><stop offset="0.7917" stop-color="#ffffff"/><stop offset="0.8333" stop-color="#ffffff"/><stop offset="0.8750" stop-color="#ffffff"/><stop offset="0.9167" stop-color="#ffffff"/><stop offset="0.9583" stop-color="#ffffff"/><stop offset="1.0000" stop-color="#ffffff"/></linearGradient>
<linearGradient id="cbc" x1="0" y1="0" x2="0" y2="1"><stop offset="0.0000" stop-color="#800000"/><stop offset="0.0625" stop-color="#bf0000"/><stop offset="0.1250" stop-color="#ff0000"/><stop offset="0.1875" stop-color="#ff4000"/><stop offset="0.2500" stop-color="#ff8000"/><stop offset="0.3125" stop-color="#ffbf00"/><stop offset="0.3750" stop-color="#ffff00"/><stop offset="0.4375" stop-color="#ffff80"/><stop offset="0.5000" stop-color="#ffffff"/><stop offset="0.5625" stop-color="#80ffff"/><stop offset="0.6250" stop-color="#00ffff"/><stop offset="0.6875" stop-color="#00bfff"/><stop offset="0.7500" stop-color="#0080ff"/><stop offset="0.8125" stop-color="#0040ff"/><stop offset="0.8750" stop-color="#0000ff"/><stop offset="0.9375" stop-color="#0000bf"/><stop offset="1.0000" stop-color="#000080"/></linearGradient>
<linearGradient id="d11" x1="0" y1="0" x2="0" y2="1"><stop offset="0.0000" stop-color="#4744e8"/><stop offset="0.0417" stop-color="#4744e8"/><stop offset="0.0833" stop-color="#4744e8"/><stop offset="0.1250" stop-color="#4744e8"/><stop offset="0.1667" stop-color="#4744e8"/><stop offset="0.2083" stop-color="#4744e8"/><stop offset="0.2500" stop-color="#4744e8"/><stop offset="0.2917" stop-color="#4744e9"/><stop offset="0.3333" stop-color="#4745e9"/><stop offset="0.3750" stop-color="#4745e9"/><stop offset="0.4167" stop-color="#4745e9"/><stop offset="0.4583" stop-color="#4745e9"/><stop offset="0.5000" stop-color="#4745e9"/><stop offset="0.5417" stop-color="#4745e9"/><stop offset="0.5833" stop-color="#4745e9"/><stop offset="0.6250" stop-color="#4745e9"/><stop offset="0.6667" stop-color="#4745e9"/><stop offset="0.7083" stop-color="#4745e9"/><stop offset="0.7500" stop-color="#4745e9"/><stop offset="0.7917" stop-color="#4745e9"/><stop offset="0.8333" stop-color="#4745e9"/><stop offset="0.8750" stop-color="#4745e9"/><stop offset="0.9167" stop-color="#4745e9"/><stop offset="0.9583" stop-color="#4745e9"/><stop offset="1.0000" stop-color="#4745e9"/></linearGradient>
<linearGradient id="d12" x1="0" y1="0" x2="0" y2="1"><stop offset="0.0000" stop-color="#4743e7"/><stop offset="0.0417" stop-color="#4743e7"/><stop offset="0.0833" stop-color="#4743e7"/><stop offset="0.1250" stop-color="#4743e7"/><stop offset="0.1667" stop-color="#4743e7"/><stop offset="0.2083" stop-color="#4744e8"/><stop offset="0.2500" stop-color="#4744e8"/><stop offset="0.2917" stop-color="#4744e8"/><stop offset="0.3333" stop-color="#4744e8"/><stop offset="0.3750" stop-color="#4744e8"/><stop offset="0.4167" stop-color="#4744e8"/><stop offset="0.4583" stop-color="#4744e8"/><stop offset="0.5000" stop-color="#4744e9"/><stop offset="0.5417" stop-color="#4745e9"/><stop offset="0.5833" stop-color="#4745e9"/><stop offset="0.6250" stop-color="#4745e9"/><stop offset="0.6667" stop-color="#4745e9"/><stop offset="0.7083" stop-color="#4745e9"/><stop offset="0.7500" stop-color="#4745e9"/><stop offset="0.7917" stop-color="#4745e9"/><stop offset="0.8333" stop-color="#4745e9"/><stop offset="0.8750" stop-color="#4745e9"/><stop offset="0.9167" stop-color="#4745e9"/><stop offset="0.9583" stop-color="#4745e9"/><stop offset="1.0000" stop-color="#4745e9"/></linearGradient>
<linearGradient id="d13" x1="0" y1="0" x2="0" y2="1"><stop offset="0.0000" stop-color="#4741e5"/><stop offset="0.0417" stop-color="#4741e5"/><stop offset="0.0833" stop-color="#4742e6"/><stop offset="0.1250" stop-color="#4742e6"/><stop offset="0.1667" stop-color="#4742e6"/><stop offset="0.2083" stop-color="#4742e6"/><stop offset="0.2500" stop-color="#4743e7"/><stop offset="0.2917" stop-color="#4743e7"/><stop offset="0.3333" stop-color="#4743e7"/><stop offset="0.3750" stop-color="#4743e7"/><stop offset="0.4167" stop-color="#4743e8"/><stop offset="0.4583" stop-color="#4744e8"/><stop offset="0.5000" stop-color="#4744e8"/><stop offset="0.5417" stop-color="#4744e8"/><stop offset="0.5833" stop-color="#4744e8"/><stop offset="0.6250" stop-color="#4744e8"/><stop offset="0.6667" stop-color="#4745e9"/><stop offset="0.7083" stop-color="#4745e9"/><stop offset="0.7500" stop-color="#4745e9"/><stop offset="0.7917" stop-color="#4745e9"/><stop offset="0.8333" stop-color="#4745e9"/><stop offset="0.8750" stop-color="#4745e9"/><stop offset="0.9167" stop-color="#4745e9"/><stop offset="0.9583" stop-color="#4745e9"/><stop offset="1.0000" stop-color="#4745e9"/></linearGradient>
<linearGradient id="d14" x1="0" y1="0" x2="0" y2="1"><stop offset="0.0000" stop-color="#473fe2"/><stop offset="0.0417" stop-color="#473fe3"/><stop offset="0.0833" stop-color="#473fe3"/><stop offset="0.1250" stop-color="#4740e3"/><stop offset="0.1667" stop-color="#4740e4"/><stop offset="0.2083" stop-color="#4741e4"/><stop offset="0.2500" stop-color="#4741e5"/><stop offset="0.2917" stop-color="#4741e5"/><stop offset="0.3333" stop-color="#4742e6"/><stop offset="0.3750" stop-color="#4742e6"/><stop offset="0.4167" stop-color="#4742e6"/><stop offset="0.4583" stop-color="#4743e7"/><stop offset="0.5000" stop-color="#4743e7"/><stop offset="0.5417" stop-color="#4743e7"/><stop offset="0.5833" stop-color="#4743e8"/><stop offset="0.6250" stop-color="#4744e8"/><stop offset="0.6667" stop-color="#4744e8"/><stop offset="0.7083" stop-color="#4744e8"/><stop offset="0.7500" stop-color="#4744e8"/><stop offset="0.7917" stop-color="#4745e9"/><stop offset="0.8333" stop-color="#4745e9"/><stop offset="0.8750" stop-color="#4745e9"/><stop offset="0.9167" stop-color="#4745e9"/><stop offset="0.9583" stop-color="#4745e9"/><stop offset="1.0000" stop-color="#4745e9"/></linearGradient>
<linearGradient id="d15" x1="0" y1="0" x2="0" y2="1"><stop offset="0.0000" stop-color="#463cde"/><stop offset="0.0417" stop-color="#463cdf"/><stop offset="0.0833" stop-color="#463cdf"/><stop offset="0.1250" stop-color="#463de0"/><stop offset="0.1667" stop-color="#463de0"/><stop offset="0.2083" stop-color="#463ee1"/><stop offset="0.2500" stop-color="#473ee2"/><stop offset="0.2917" stop-color="#473fe2"/><stop offset="0.3333" stop-color="#473fe3"/><stop offset="0.3750" stop-color="#4740e3"/><stop offset="0.4167" stop-color="#4740e4"/><stop offset="0.4583" stop-color="#4741e5"/><stop offset="0.5000" stop-color="#4741e5"/><stop offset="0.5417" stop-color="#4742e6"/><stop offset="0.5833" stop-color="#4742e6"/><stop offset="0.6250" stop-color="#4743e7"/><stop offset="0.6667" stop-color="#4743e7"/><stop offset="0.7083" stop-color="#4743e7"/><stop offset="0.7500" stop-color="#4744e8"/><stop offset="0.7917" stop-color="#4744e8"/><stop offset="0.8333" stop-color="#4744e8"/><stop offset="0.8750" stop-color="#4745e9"/><stop offset="0.9167" stop-color="#4745e9"/><stop offset="0.9583" stop-color="#4745e9"/><stop offset="1.0000" stop-color="#4745e9"/></linearGradient>
<linearGradient id="d16" x1="0" y1="0" x2="0" y2="1"><stop offset="0.0000" stop-color="#4538d7"/><stop offset="0.0417" stop-color="#4538d8"/><stop offset="0.0833" stop-color="#4539d9"/><stop offset="0.1250" stop-color="#4639da"/><stop offset="0.1667" stop-color="#463adb"/><stop offset="0.2083" stop-color="#463adc"/><stop offset="0.2500" stop-color="#463bdd"/><stop offset="0.2917" stop-color="#463cde"/><stop offset="0.3333" stop-color="#463cdf"/><stop offset="0.3750" stop-color="#463de0"/><stop offset="0.4167" stop-color="#463ee1"/><stop offset="0.4583" stop-color="#473ee2"/><stop offset="0.5000" stop-color="#473fe2"/><stop offset="0.5417" stop-color="#4740e3"/><stop offset="0.5833" stop-color="#4740e4"/><stop offset="0.6250" stop-color="#4741e5"/><stop offset="0.6667" stop-color="#4742e6"/><stop offset="0.7083" stop-color="#4742e6"/><stop offset="0.7500" stop-color="#4743e7"/><stop offset="0.7917" stop-color="#4743e7"/><stop offset="0.8333" stop-color="#4744e8"/><stop offset="0.8750" stop-color="#4744e8"/><stop offset="0.9167" stop-color="#4745e9"/><stop offset="0.9583" stop-color="#4745e9"/><stop offset="1.0000" stop-color="#4745e9"/></linearGradient>
<linearGradient id="d17" x1="0" y1="0" x2="0" y2="1"><stop offset="0.0000" stop-color="#4434ce"/><stop offset="0.0417" stop-color="#4434cf"/><stop offset="0.0833" stop-color="#4435d0"/><stop offset="0.1250" stop-color="#4435d2"/><stop offset="0.1667" stop-color="#4536d3"/><stop offset="0.2083" stop-color="#4536d4"/><stop offset="0.2500" stop-color="#4537d6"/><stop offset="0.2917" stop-color="#4538d7"/><stop offset="0.3333" stop-color="#4539d9"/><stop offset="0.3750" stop-color="#4639da"/><stop offset="0.4167" stop-color="#463adc"/><stop offset="0.4583" stop-color="#463bdd"/><stop offset="0.5000" stop-color="#463cdf"/><stop offset="0.5417" stop-color="#463de0"/><stop offset="0.5833" stop-color="#463ee1"/><stop offset="0.6250" stop-color="#473fe2"/><stop offset="0.6667" stop-color="#4740e3"/><stop offset="0.7083" stop-color="#4740e4"/><stop offset="0.7500" stop-color="#4741e5"/><stop offset="0.7917" stop-color="#4742e6"/><stop offset="0.8333" stop-color="#4743e7"/><stop offset="0.8750" stop-color="#4743e8"/><stop offset="0.9167" stop-color="#4744e8"/><stop offset="0.9583" stop-color="#4745e9"/><stop offset="1.0000" stop-color="#4745e9"/></linearGradient>
<linearGradient id="d18" x1="0" y1="0" x2="0" y2="1"><stop offset="0.0000" stop-color="#4230c3"/><stop offset="0.0417" stop-color="#4230c4"/><stop offset="0.0833" stop-color="#4331c5"/><stop offset="0.1250" stop-color="#4331c7"/><stop offset="0.1667" stop-color="#4332c9"/><stop offset="0.2083" stop-color="#4332ca"/><stop offset="0.2500" stop-color="#4433cc"/><stop offset="0.2917" stop-color="#4434ce"/><stop offset="0.3333" stop-color="#4435d0"/><stop offset="0.3750" stop-color="#4536d2"/><stop offset="0.4167" stop-color="#4536d5"/><stop offset="0.4583" stop-color="#4538d7"/><stop offset="0.5000" stop-color="#4539d9"/><stop offset="0.5417" stop-color="#463adb"/><stop offset="0.5833" stop-color="#463bdc"/><stop offset="0.6250" stop-color="#463cde"/><stop offset="0.6667" stop-color="#463de0"/><stop offset="0.7083" stop-color="#473ee1"/><stop offset="0.7500" stop-color="#473fe3"/><stop offset="0.7917" stop-color="#4740e4"/><stop offset="0.8333" stop-color="#4741e6"/><stop offset="0.8750" stop-color="#4743e7"/><stop offset="0.9167" stop-color="#4743e8"/><stop offset="0.9583" stop-color="#4744e8"/><stop offset="1.0000" stop-color="#4745e9"/></linearGradient>
<linearGradient id="d19" x1="0" y1="0" x2="0" y2="1"><stop offset="0.0000" stop-color="#412cb9"/><stop offset="0.0417" stop-color="#412cba"/><stop offset="0.0833" stop-color="#412cbb"/><stop offset="0.1250" stop-color="#412dbc"/><stop offset="0.1667" stop-color="#412ebe"/><stop offset="0.2083" stop-color="#422ec0"/><stop offset="0.2500" stop-color="#422fc2"/><stop offset="0.2917" stop-color="#4230c4"/><stop offset="0.3333" stop-color="#4331c6"/><stop offset="0.3750" stop-color="#4332c9"/><stop offset="0.4167" stop-color="#4433cc"/><stop offset="0.4583" stop-color="#4434ce"/><stop offset="0.5000" stop-color="#4435d1"/><stop offset="0.5417" stop-color="#4536d4"/><stop offset="0.5833" stop-color="#4538d7"/><stop offset="0.6250" stop-color="#4539d9"/><stop offset="0.6667" stop-color="#463adc"/><stop offset="0.7083" stop-color="#463cde"/><stop offset="0.7500" stop-color="#463de0"/><stop offset="0.7917" stop-color="#473fe2"/><stop offset="0.8333" stop-color="#4740e4"/><stop offset="0.8750" stop-color="#4741e5"/><stop offset="0.9167" stop-color="#4743e7"/><stop offset="0.9583" stop-color="#4744e8"/><stop offset="1.0000" stop-color="#4745e9"/></linearGradient>
<linearGradient id="d20" x1="0" y1="0" x2="0" y2="1"><stop offset="0.0000" stop-color="#3f29b1"/><stop offset="0.0417" stop-color="#3f29b2"/><stop offset="0.0833" stop-color="#402ab3"/><stop offset="0.1250" stop-color="#402ab4"/><stop offset="0.1667" stop-color="#402ab5"/><stop offset="0.2083" stop-color="#402bb7"/><stop offset="0.2500" stop-color="#412cb9"/><stop offset="0.2917" stop-color="#412dbb"/><stop offset="0.3333" stop-color="#412ebe"/><stop offset="0.3750" stop-color="#422fc0"/><stop offset="0.4167" stop-color="#4230c3"/><stop offset="0.4583" stop-color="#4331c6"/><stop offset="0.5000" stop-color="#4332ca"/><stop offset="0.5417" stop-color="#4433cd"/><stop offset="0.5833" stop-color="#4435d0"/><stop offset="0.6250" stop-color="#4536d4"/><stop offset="0.6667" stop-color="#4538d7"/><stop offset="0.7083" stop-color="#4639da"/><stop offset="0.7500" stop-color="#463bdd"/><stop offset="0.7917" stop-color="#463ddf"/><stop offset="0.8333" stop-color="#473ee1"/><stop offset="0.8750" stop-color="#4740e4"/><stop offset="0.9167" stop-color="#4742e6"/><stop offset="0.9583" stop-color="#4744e8"/><stop offset="1.0000" stop-color="#4745e9"/></linearGradient>
<linearGradient id="d21" x1="0" y1="0" x2="0" y2="1"><stop offset="0.0000" stop-color="#3f29b1"/><stop offset="0.0417" stop-color="#3f29b1"/><stop offset="0.0833" stop-color="#3f29b1"/><stop offset="0.1250" stop-color="#3f29b2"/><stop offset="0.1667" stop-color="#4029b3"/><stop offset="0.2083" stop-color="#402ab4"/><stop offset="0.2500" stop-color="#402ab5"/><stop offset="0.2917" stop-color="#402bb7"/><stop offset="0.3333" stop-color="#412cb9"/><stop offset="0.3750" stop-color="#412dbc"/><stop offset="0.4167" stop-color="#422ebe"/><stop offset="0.4583" stop-color="#422fc1"/><stop offset="0.5000" stop-color="#4330c5"/><stop offset="0.5417" stop-color="#4331c8"/><stop offset="0.5833" stop-color="#4433cc"/><stop offset="0.6250" stop-color="#4434cf"/><stop offset="0.6667" stop-color="#4536d3"/><stop offset="0.7083" stop-color="#4537d6"/><stop offset="0.7500" stop-color="#4639da"/><stop offset="0.7917" stop-color="#463bdd"/><stop offset="0.8333" stop-color="#463de0"/><stop offset="0.8750" stop-color="#473fe2"/><stop offset="0.9167" stop-color="#4741e5"/><stop offset="0.9583" stop-color="#4743e7"/><stop offset="1.0000" stop-color="#4745e9"/></linearGradient>
<linearGradient id="d22" x1="0" y1="0" x2="0" y2="1"><stop offset="0.0000" stop-color="#412dbb"/><stop offset="0.0417" stop-color="#412cba"/><stop offset="0.0833" stop-color="#412cba"/><stop offset="0.1250" stop-color="#412cba"/><stop offset="0.1667" stop-color="#412cba"/><stop offset="0.2083" stop-color="#412cba"/><stop offset="0.2500" stop-color="#412cbb"/><stop offset="0.2917" stop-color="#412dbc"/><stop offset="0.3333" stop-color="#412dbd"/><stop offset="0.3750" stop-color="#422ebf"/><stop offset="0.4167" stop-color="#422fc1"/><stop offset="0.4583" stop-color="#4230c3"/><stop offset="0.5000" stop-color="#4331c6"/><stop offset="0.5417" stop-color="#4332c8"/><stop offset="0.5833" stop-color="#4433cb"/><stop offset="0.6250" stop-color="#4434cf"/><stop offset="0.6667" stop-color="#4535d2"/><stop offset="0.7083" stop-color="#4537d5"/><stop offset="0.7500" stop-color="#4539d9"/><stop offset="0.7917" stop-color="#463adc"/><stop offset="0.8333" stop-color="#463cdf"/><stop offset="0.8750" stop-color="#473fe2"/><stop offset="0.9167" stop-color="#4741e5"/><stop offset="0.9583" stop-color="#4743e7"/><stop offset="1.0000" stop-color="#4745e9"/></linearGradient>
<linearGradient id="d23" x1="0" y1="0" x2="0" y2="1"><stop offset="0.0000" stop-color="#4536d3"/><stop offset="0.0417" stop-color="#4535d2"/><stop offset="0.0833" stop-color="#4435d0"/><stop offset="0.1250" stop-color="#4434cf"/><stop offset="0.1667" stop-color="#4434ce"/><stop offset="0.2083" stop-color="#4434cd"/><stop offset="0.2500" stop-color="#4433cd"/><stop offset="0.2917" stop-color="#4433cd"/><stop offset="0.3333" stop-color="#4433cd"/><stop offset="0.3750" stop-color="#4433cd"/><stop offset="0.4167" stop-color="#4434ce"/><stop offset="0.4583" stop-color="#4434cf"/><stop offset="0.5000" stop-color="#4434d0"/><stop offset="0.5417" stop-color="#4435d1"/><stop offset="0.5833" stop-color="#4536d3"/><stop offset="0.6250" stop-color="#4537d5"/><stop offset="0.6667" stop-color="#4538d7"/><stop offset="0.7083" stop-color="#4539d9"/><stop offset="0.7500" stop-color="#463adb"/><stop offset="0.7917" stop-color="#463cde"/><stop offset="0.8333" stop-color="#463de0"/><stop offset="0.8750" stop-color="#473fe3"/><stop offset="0.9167" stop-color="#4741e5"/><stop offset="0.9583" stop-color="#4743e7"/><stop offset="1.0000" stop-color="#4745e9"/></linearGradient>
<linearGradient id="d24" x1="0" y1="0" x2="0" y2="1"><stop offset="0.0000" stop-color="#484bef"/><stop offset="0.0417" stop-color="#484aee"/><stop offset="0.0833" stop-color="#4848ec"/><stop offset="0.1250" stop-color="#4747eb"/><stop offset="0.1667" stop-color="#4745e9"/><stop offset="0.2083" stop-color="#4744e8"/><stop offset="0.2500" stop-color="#4743e7"/><stop offset="0.2917" stop-color="#4742e6"/><stop offset="0.3333" stop-color="#4741e5"/><stop offset="0.3750" stop-color="#4740e4"/><stop offset="0.4167" stop-color="#4740e3"/><stop offset="0.4583" stop-color="#473fe3"/><stop offset="0.5000" stop-color="#473fe2"/><stop offset="0.5417" stop-color="#473ee2"/><stop offset="0.5833" stop-color="#473ee1"/><stop offset="0.6250" stop-color="#473ee1"/><stop offset="0.6667" stop-color="#473ee2"/><stop offset="0.7083" stop-color="#473fe2"/><stop offset="0.7500" stop-color="#473fe3"/><stop offset="0.7917" stop-color="#4740e3"/><stop offset="0.8333" stop-color="#4741e4"/><stop offset="0.8750" stop-color="#4742e6"/><stop offset="0.9167" stop-color="#4743e7"/><stop offset="0.9583" stop-color="#4744e8"/><stop offset="1.0000" stop-color="#4745e9"/></linearGradient>
<linearGradient id="d25" x1="0" y1="0" x2="0" y2="1"><stop offset="0.0000" stop-color="#3b72ff"/><stop offset="0.0417" stop-color="#3d70ff"/><stop offset="0.0833" stop-color="#3f6efe"/><stop offset="0.1250" stop-color="#416bfe"/><stop offset="0.1667" stop-color="#4269fe"/><stop offset="0.2083" stop-color="#4367fd"/><stop offset="0.2500" stop-color="#4564fd"/><stop offset="0.2917" stop-color="#4561fc"/><stop offset="0.3333" stop-color="#465ffb"/><stop offset="0.3750" stop-color="#475cfa"/><stop offset="0.4167" stop-color="#475af9"/><stop offset="0.4583" stop-color="#4757f7"/><stop offset="0.5000" stop-color="#4755f6"/><stop offset="0.5417" stop-color="#4853f5"/><stop offset="0.5833" stop-color="#4851f3"/><stop offset="0.6250" stop-color="#484ff2"/><stop offset="0.6667" stop-color="#484df0"/><stop offset="0.7083" stop-color="#484bef"/><stop offset="0.7500" stop-color="#484aed"/><stop offset="0.7917" stop-color="#4848ec"/><stop offset="0.8333" stop-color="#4747eb"/><stop offset="0.8750" stop-color="#4746eb"/><stop offset="0.9167" stop-color="#4746ea"/><stop offset="0.9583" stop-color="#4745ea"/><stop offset="1.0000" stop-color="#4745e9"/></linearGradient>
<linearGradient id="d26" x1="0" y1="0" x2="0" y2="1"><stop offset="0.0000" stop-color="#23a0e5"/><stop offset="0.0417" stop-color="#249ee6"/><stop offset="0.0833" stop-color="#259ce7"/><stop offset="0.1250" stop-color="#269ae9"/><stop offset="0.1667" stop-color="#2797eb"/><stop offset="0.2083" stop-color="#2994ed"/><stop offset="0.2500" stop-color="#2b91ef"/><stop offset="0.2917" stop-color="#2d8df2"/><stop offset="0.3333" stop-color="#2d89f5"/><stop offset="0.3750" stop-color="#2e85f8"/><stop offset="0.4167" stop-color="#2f81fa"/><stop offset="0.4583" stop-color="#327cfc"/><stop offset="0.5000" stop-color="#3677fe"/><stop offset="0.5417" stop-color="#3b72ff"/><stop offset="0.5833" stop-color="#406dfe"/><stop offset="0.6250" stop-color="#4368fe"/><stop offset="0.6667" stop-color="#4564fd"/><stop offset="0.7083" stop-color="#465ffb"/><stop offset="0.7500" stop-color="#475bf9"/><stop offset="0.7917" stop-color="#4757f7"/><stop offset="0.8333" stop-color="#4853f5"/><stop offset="0.8750" stop-color="#484ff2"/><stop offset="0.9167" stop-color="#484cef"/><stop offset="0.9583" stop-color="#4848ec"/><stop offset="1.0000" stop-color="#4745e9"/></linearGradient>
<linearGradient id="d27" x1="0" y1="0" x2="0" y2="1"><stop offset="0.0000" stop-color="#1ec0b2"/><stop offset="0.0417" stop-color="#1ac0b4"/><stop offset="0.0833" stop-color="#15bfb8"/><stop offset="0.1250" stop-color="#0dbdbb"/><stop offset="0.1667" stop-color="#06bcc0"/><stop offset="0.2083" stop-color="#02bac5"/><stop offset="0.2500" stop-color="#02b7ca"/><stop offset="0.2917" stop-color="#08b5d0"/><stop offset="0.3333" stop-color="#12b1d6"/><stop offset="0.3750" stop-color="#19addc"/><stop offset="0.4167" stop-color="#1da8e0"/><stop offset="0.4583" stop-color="#21a3e3"/><stop offset="0.5000" stop-color="#259de7"/><stop offset="0.5417" stop-color="#2797eb"/><stop offset="0.5833" stop-color="#2b90f0"/><stop offset="0.6250" stop-color="#2d89f5"/><stop offset="0.6667" stop-color="#2f82fa"/><stop offset="0.7083" stop-color="#347afd"/><stop offset="0.7500" stop-color="#3c72ff"/><stop offset="0.7917" stop-color="#4269fe"/><stop offset="0.8333" stop-color="#4562fc"/><stop offset="0.8750" stop-color="#475af9"/><stop offset="0.9167" stop-color="#4853f5"/><stop offset="0.9583" stop-color="#484cf0"/><stop offset="1.0000" stop-color="#4745e9"/></linearGradient>
<linearGradient id="d28" x1="0" y1="0" x2="0" y2="1"><stop offset="0.0000" stop-color="#85cb55"/><stop offset="0.0417" stop-color="#81cc58"/><stop offset="0.0833" stop-color="#7bcc5d"/><stop offset="0.1250" stop-color="#72cd64"/><stop offset="0.1667" stop-color="#67cd6c"/><stop offset="0.2083" stop-color="#5ccc76"/><stop offset="0.2500" stop-color="#4fcc81"/><stop offset="0.2917" stop-color="#42ca8c"/><stop offset="0.3333" stop-color="#37c897"/><stop offset="0.3750" stop-color="#2fc5a2"/><stop offset="0.4167" stop-color="#25c2ae"/><stop offset="0.4583" stop-color="#13beb9"/><stop offset="0.5000" stop-color="#02bac4"/><stop offset="0.5417" stop-color="#07b5cf"/><stop offset="0.5833" stop-color="#16afd9"/><stop offset="0.6250" stop-color="#1ea7e1"/><stop offset="0.6667" stop-color="#249ee6"/><stop offset="0.7083" stop-color="#2995ec"/><stop offset="0.7500" stop-color="#2d8af4"/><stop offset="0.7917" stop-color="#307ffb"/><stop offset="0.8333" stop-color="#3b73fe"/><stop offset="0.8750" stop-color="#4367fd"/><stop offset="0.9167" stop-color="#475bfa"/><stop offset="0.9583" stop-color="#4850f3"/><stop offset="1.0000" stop-color="#4745e9"/></linearGradient>
<linearGradient id="d29" x1="0" y1="0" x2="0" y2="1"><stop offset="0.0000" stop-color="#f2ba38"/><stop offset="0.0417" stop-color="#f0ba36"/><stop offset="0.0833" stop-color="#ecba32"/><stop offset="0.1250" stop-color="#e6bb2d"/><stop offset="0.1667" stop-color="#debc2a"/><stop offset="0.2083" stop-color="#d4bf28"/><stop offset="0.2500" stop-color="#c7c12a"/><stop offset="0.2917" stop-color="#b6c532"/><stop offset="0.3333" stop-color="#a2c83f"/><stop offset="0.3750" stop-color="#8bcb51"/><stop offset="0.4167" stop-color="#70cd65"/><stop offset="0.4583" stop-color="#57cc7a"/><stop offset="0.5000" stop-color="#3fca8e"/><stop offset="0.5417" stop-color="#30c5a1"/><stop offset="0.5833" stop-color="#1fc0b2"/><stop offset="0.6250" stop-color="#04bbc2"/><stop offset="0.6667" stop-color="#0ab4d2"/><stop offset="0.7083" stop-color="#1baade"/><stop offset="0.7500" stop-color="#249fe6"/><stop offset="0.7917" stop-color="#2b92ee"/><stop offset="0.8333" stop-color="#2e84f9"/><stop offset="0.8750" stop-color="#3a74fe"/><stop offset="0.9167" stop-color="#4564fd"/><stop offset="0.9583" stop-color="#4854f6"/><stop offset="1.0000" stop-color="#4745e9"/></linearGradient>
<linearGradient id="d30" x1="0" y1="0" x2="0" y2="1"><stop offset="0.0000" stop-color="#f6dd29"/><stop offset="0.0417" stop-color="#f7dc2a"/><stop offset="0.0833" stop-color="#f8da2b"/><stop offset="0.1250" stop-color="#fad62d"/><stop offset="0.1667" stop-color="#fcd130"/><stop offset="0.2083" stop-color="#feca33"/><stop offset="0.2500" stop-color="#fec338"/><stop offset="0.2917" stop-color="#fbbc3d"/><stop offset="0.3333" stop-color="#eeba34"/><stop offset="0.3750" stop-color="#ddbd29"/><stop offset="0.4167" stop-color="#c6c22a"/><stop offset="0.4583" stop-color="#aac73a"/><stop offset="0.5000" stop-color="#89cb53"/><stop offset="0.5417" stop-color="#65cd6e"/><stop offset="0.5833" stop-color="#44cb89"/><stop offset="0.6250" stop-color="#30c5a1"/><stop offset="0.6667" stop-color="#17bfb6"/><stop offset="0.7083" stop-color="#01b8ca"/><stop offset="0.7500" stop-color="#19addc"/><stop offset="0.7917" stop-color="#249fe5"/><stop offset="0.8333" stop-color="#2c90f0"/><stop offset="0.8750" stop-color="#317efb"/><stop offset="0.9167" stop-color="#416afe"/><stop offset="0.9583" stop-color="#4758f8"/><stop offset="1.0000" stop-color="#4745e9"/></linearGradient>
<linearGradient id="d31" x1="0" y1="0" x2="0" y2="1"><stop offset="0.0000" stop-color="#f7f51b"/><stop offset="0.0417" stop-color="#f7f51b"/><stop offset="0.0833" stop-color="#f6f21d"/><stop offset="0.1250" stop-color="#f5ef20"/><stop offset="0.1667" stop-color="#f5ea24"/><stop offset="0.2083" stop-color="#f5e327"/><stop offset="0.2500" stop-color="#f7db2b"/><stop offset="0.2917" stop-color="#fbd12f"/><stop offset="0.3333" stop-color="#fec736"/><stop offset="0.3750" stop-color="#fcbc3d"/><stop offset="0.4167" stop-color="#ebba32"/><stop offset="0.4583" stop-color="#d4bf28"/><stop offset="0.5000" stop-color="#b6c533"/><stop offset="0.5417" stop-color="#91ca4c"/><stop offset="0.5833" stop-color="#68cd6b"/><stop offset="0.6250" stop-color="#43ca8a"/><stop offset="0.6667" stop-color="#2dc4a5"/><stop offset="0.7083" stop-color="#0dbdbc"/><stop offset="0.7500" stop-color="#09b4d1"/><stop offset="0.7917" stop-color="#1ea7e1"/><stop offset="0.8333" stop-color="#2796eb"/><stop offset="0.8750" stop-color="#2e84f9"/><stop offset="0.9167" stop-color="#3f6eff"/><stop offset="0.9583" stop-color="#475af9"/><stop offset="1.0000" stop-color="#4745e9"/></linearGradient>
<linearGradient id="d32" x1="0" y1="0" x2="0" y2="1"><stop offset="0.0000" stop-color="#f8f818"/><stop offset="0.0417" stop-color="#f8f719"/><stop offset="0.0833" stop-color="#f7f51b"/><stop offset="0.1250" stop-color="#f6f11e"/><stop offset="0.1667" stop-color="#f5ec22"/><stop offset="0.2083" stop-color="#f5e626"/><stop offset="0.2500" stop-color="#f6dd29"/><stop offset="0.2917" stop-color="#fad42e"/><stop offset="0.3333" stop-color="#fec934"/><stop offset="0.3750" stop-color="#febe3c"/><stop offset="0.4167" stop-color="#eeba35"/><stop offset="0.4583" stop-color="#d7be28"/><stop offset="0.5000" stop-color="#bac430"/><stop offset="0.5417" stop-color="#95ca49"/><stop offset="0.5833" stop-color="#6ccd68"/><stop offset="0.6250" stop-color="#46cb88"/><stop offset="0.6667" stop-color="#2fc5a3"/><stop offset="0.7083" stop-color="#0fbeba"/><stop offset="0.7500" stop-color="#08b5d0"/><stop offset="0.7917" stop-color="#1ea7e1"/><stop offset="0.8333" stop-color="#2797eb"/><stop offset="0.8750" stop-color="#2e84f8"/><stop offset="0.9167" stop-color="#3e6fff"/><stop offset="0.9583" stop-color="#475af9"/><stop offset="1.0000" stop-color="#4745e9"/></linearGradient>
<linearGradient id="d33" x1="0" y1="0" x2="0" y2="1"><stop offset="0.0000" stop-color="#f5e427"/><stop offset="0.0417" stop-color="#f5e327"/><stop offset="0.0833" stop-color="#f6e128"/><stop offset="0.1250" stop-color="#f7dd2a"/><stop offset="0.1667" stop-color="#f9d72c"/><stop offset="0.2083" stop-color="#fcd12f"/><stop offset="0.2500" stop-color="#fec934"/><stop offset="0.2917" stop-color="#fec03a"/><stop offset="0.3333" stop-color="#f7ba3c"/><stop offset="0.3750" stop-color="#e6bb2d"/><stop offset="0.4167" stop-color="#d1bf27"/><stop offset="0.4583" stop-color="#b6c533"/><stop offset="0.5000" stop-color="#95ca49"/><stop offset="0.5417" stop-color="#70cd65"/><stop offset="0.5833" stop-color="#4dcc82"/><stop offset="0.6250" stop-color="#34c79c"/><stop offset="0.6667" stop-color="#1fc0b2"/><stop offset="0.7083" stop-color="#01b9c6"/><stop offset="0.7500" stop-color="#15afd9"/><stop offset="0.7917" stop-color="#22a1e4"/><stop offset="0.8333" stop-color="#2b91ef"/><stop offset="0.8750" stop-color="#3080fb"/><stop offset="0.9167" stop-color="#416bfe"/><stop offset="0.9583" stop-color="#4758f8"/><stop offset="1.0000" stop-color="#4745e9"/></linearGradient>
<linearGradient id="d34" x1="0" y1="0" x2="0" y2="1"><stop offset="0.0000" stop-color="#fdbd3d"/><stop offset="0.0417" stop-color="#fcbc3d"/><stop offset="0.0833" stop-color="#f9bb3d"/><stop offset="0.1250" stop-color="#f5ba3a"/><stop offset="0.1667" stop-color="#eeba34"/><stop offset="0.2083" stop-color="#e5bb2c"/><stop offset="0.2500" stop-color="#d8be28"/><stop offset="0.2917" stop-color="#c9c129"/><stop offset="0.3333" stop-color="#b6c532"/><stop offset="0.3750" stop-color="#9fc941"/><stop offset="0.4167" stop-color="#85cb55"/><stop offset="0.4583" stop-color="#68cd6b"/><stop offset="0.5000" stop-color="#4dcc82"/><stop offset="0.5417" stop-color="#37c897"/><stop offset="0.5833" stop-color="#29c3aa"/><stop offset="0.6250" stop-color="#0ebebb"/><stop offset="0.6667" stop-color="#03b7cc"/><stop offset="0.7083" stop-color="#18aedb"/><stop offset="0.7500" stop-color="#22a2e4"/><stop offset="0.7917" stop-color="#2895ec"/><stop offset="0.8333" stop-color="#2e86f7"/><stop offset="0.8750" stop-color="#3776fe"/><stop offset="0.9167" stop-color="#4465fd"/><stop offset="0.9583" stop-color="#4755f6"/><stop offset="1.0000" stop-color="#4745e9"/></linearGradient>
<linearGradient id="d35" x1="0" y1="0" x2="0" y2="1"><stop offset="0.0000" stop-color="#a1c840"/><stop offset="0.0417" stop-color="#9dc943"/><stop offset="0.0833" stop-color="#96ca48"/><stop offset="0.1250" stop-color="#8ecb4f"/><stop offset="0.1667" stop-color="#83cc57"/><stop offset="0.2083" stop-color="#75cc61"/><stop offset="0.2500" stop-color="#67cd6d"/><stop offset="0.2917" stop-color="#57cc7a"/><stop offset="0.3333" stop-color="#47cb87"/><stop offset="0.3750" stop-color="#39c994"/><stop offset="0.4167" stop-color="#30c5a1"/><stop offset="0.4583" stop-color="#25c2ae"/><stop offset="0.5000" stop-color="#10beba"/><stop offset="0.5417" stop-color="#01b9c6"/><stop offset="0.5833" stop-color="#0bb3d2"/><stop offset="0.6250" stop-color="#1aacdd"/><stop offset="0.6667" stop-color="#21a3e3"/><stop offset="0.7083" stop-color="#2699e9"/><stop offset="0.7500" stop-color="#2c8ff1"/><stop offset="0.7917" stop-color="#2e83f9"/><stop offset="0.8333" stop-color="#3777fe"/><stop offset="0.8750" stop-color="#4269fe"/><stop offset="0.9167" stop-color="#465dfa"/><stop offset="0.9583" stop-color="#4851f3"/><stop offset="1.0000" stop-color="#4745e9"/></linearGradient>
<linearGradient id="d36" x1="0" y1="0" x2="0" y2="1"><stop offset="0.0000" stop-color="#2fc5a3"/><stop offset="0.0417" stop-color="#2dc4a6"/><stop offset="0.0833" stop-color="#29c3a9"/><stop offset="0.1250" stop-color="#25c2ad"/><stop offset="0.1667" stop-color="#1ec0b2"/><stop offset="0.2083" stop-color="#14bfb8"/><stop offset="0.2500" stop-color="#09bcbe"/><stop offset="0.2917" stop-color="#02bac4"/><stop offset="0.3333" stop-color="#02b7cb"/><stop offset="0.3750" stop-color="#0bb3d2"/><stop offset="0.4167" stop-color="#15afd9"/><stop offset="0.4583" stop-color="#1caadf"/><stop offset="0.5000" stop-color="#20a4e3"/><stop offset="0.5417" stop-color="#249ee6"/><stop offset="0.5833" stop-color="#2797eb"/><stop offset="0.6250" stop-color="#2c90f0"/><stop offset="0.6667" stop-color="#2d88f6"/><stop offset="0.7083" stop-color="#3080fb"/><stop offset="0.7500" stop-color="#3777fe"/><stop offset="0.7917" stop-color="#3f6efe"/><stop offset="0.8333" stop-color="#4465fd"/><stop offset="0.8750" stop-color="#475dfa"/><stop offset="0.9167" stop-color="#4755f6"/><stop offset="0.9583" stop-color="#484df0"/><stop offset="1.0000" stop-color="#4745e9"/></linearGradient>
<linearGradient id="d37" x1="0" y1="0" x2="0" y2="1"><stop offset="0.0000" stop-color="#1da8e0"/><stop offset="0.0417" stop-color="#1ea7e1"/><stop offset="0.0833" stop-color="#20a5e3"/><stop offset="0.1250" stop-color="#22a2e4"/><stop offset="0.1667" stop-color="#23a0e5"/><stop offset="0.2083" stop-color="#259de7"/><stop offset="0.2500" stop-color="#2699e9"/><stop offset="0.2917" stop-color="#2896ec"/><stop offset="0.3333" stop-color="#2b92ee"/><stop offset="0.3750" stop-color="#2c8ef2"/><stop offset="0.4167" stop-color="#2d89f5"/><stop offset="0.4583" stop-color="#2e84f8"/><stop offset="0.5000" stop-color="#307ffb"/><stop offset="0.5417" stop-color="#347afd"/><stop offset="0.5833" stop-color="#3974fe"/><stop offset="0.6250" stop-color="#3f6fff"/><stop offset="0.6667" stop-color="#4269fe"/><stop offset="0.7083" stop-color="#4464fd"/><stop offset="0.7500" stop-color="#465ffb"/><stop offset="0.7917" stop-color="#475af9"/><stop offset="0.8333" stop-color="#4756f6"/><stop offset="0.8750" stop-color="#4851f3"/><stop offset="0.9167" stop-color="#484df0"/><stop offset="0.9583" stop-color="#4849ed"/><stop offset="1.0000" stop-color="#4745e9"/></linearGradient>
<linearGradient id="d38" x1="0" y1="0" x2="0" y2="1"><stop offset="0.0000" stop-color="#327cfc"/><stop offset="0.0417" stop-color="#347afd"/><stop offset="0.0833" stop-color="#3677fe"/><stop offset="0.1250" stop-color="#3975fe"/><stop offset="0.1667" stop-color="#3b72ff"/><stop offset="0.2083" stop-color="#3e6fff"/><stop offset="0.2500" stop-color="#406cfe"/><stop offset="0.2917" stop-color="#4269fe"/><stop offset="0.3333" stop-color="#4366fd"/><stop offset="0.3750" stop-color="#4563fd"/><stop offset="0.4167" stop-color="#4661fc"/><stop offset="0.4583" stop-color="#465efb"/><stop offset="0.5000" stop-color="#475bf9"/><stop offset="0.5417" stop-color="#4758f8"/><stop offset="0.5833" stop-color="#4756f6"/><stop offset="0.6250" stop-color="#4853f5"/><stop offset="0.6667" stop-color="#4851f3"/><stop offset="0.7083" stop-color="#484ff2"/><stop offset="0.7500" stop-color="#484df0"/><stop offset="0.7917" stop-color="#484bef"/><stop offset="0.8333" stop-color="#4849ed"/><stop offset="0.8750" stop-color="#4848ec"/><stop offset="0.9167" stop-color="#4747eb"/><stop offset="0.9583" stop-color="#4746ea"/><stop offset="1.0000" stop-color="#4745e9"/></linearGradient>
<linearGradient id="d39" x1="0" y1="0" x2="0" y2="1"><stop offset="0.0000" stop-color="#4852f4"/><stop offset="0.0417" stop-color="#4851f3"/><stop offset="0.0833" stop-color="#484ff2"/><stop offset="0.1250" stop-color="#484df0"/><stop offset="0.1667" stop-color="#484cef"/><stop offset="0.2083" stop-color="#484aee"/><stop offset="0.2500" stop-color="#4848ec"/><stop offset="0.2917" stop-color="#4747eb"/><stop offset="0.3333" stop-color="#4745ea"/><stop offset="0.3750" stop-color="#4744e8"/><stop offset="0.4167" stop-color="#4743e8"/><stop offset="0.4583" stop-color="#4743e7"/><stop offset="0.5000" stop-color="#4742e6"/><stop offset="0.5417" stop-color="#4741e5"/><stop offset="0.5833" stop-color="#4741e5"/><stop offset="0.6250" stop-color="#4741e5"/><stop offset="0.6667" stop-color="#4741e4"/><stop offset="0.7083" stop-color="#4741e4"/><stop offset="0.7500" stop-color="#4741e5"/><stop offset="0.7917" stop-color="#4741e5"/><stop offset="0.8333" stop-color="#4742e6"/><stop offset="0.8750" stop-color="#4742e6"/><stop offset="0.9167" stop-color="#4743e7"/><stop offset="0.9583" stop-color="#4744e8"/><stop offset="1.0000" stop-color="#4745e9"/></linearGradient>
<linearGradient id="d40" x1="0" y1="0" x2="0" y2="1"><stop offset="0.0000" stop-color="#4639d9"/><stop offset="0.0417" stop-color="#4538d8"/><stop offset="0.0833" stop-color="#4537d6"/><stop offset="0.1250" stop-color="#4537d5"/><stop offset="0.1667" stop-color="#4536d4"/><stop offset="0.2083" stop-color="#4536d3"/><stop offset="0.2500" stop-color="#4535d2"/><stop offset="0.2917" stop-color="#4435d2"/><stop offset="0.3333" stop-color="#4435d1"/><stop offset="0.3750" stop-color="#4435d1"/><stop offset="0.4167" stop-color="#4435d2"/><stop offset="0.4583" stop-color="#4535d2"/><stop offset="0.5000" stop-color="#4536d3"/><stop offset="0.5417" stop-color="#4536d4"/><stop offset="0.5833" stop-color="#4537d6"/><stop offset="0.6250" stop-color="#4538d7"/><stop offset="0.6667" stop-color="#4539d9"/><stop offset="0.7083" stop-color="#463adb"/><stop offset="0.7500" stop-color="#463bdd"/><stop offset="0.7917" stop-color="#463cdf"/><stop offset="0.8333" stop-color="#463ee1"/><stop offset="0.8750" stop-color="#473fe3"/><stop offset="0.9167" stop-color="#4741e5"/><stop offset="0.9583" stop-color="#4743e7"/><stop offset="1.0000" stop-color="#4745e9"/></linearGradient>
<linearGradient id="d41" x1="0" y1="0" x2="0" y2="1"><stop offset="0.0000" stop-color="#422ebf"/><stop offset="0.0417" stop-color="#412ebe"/><stop offset="0.0833" stop-color="#412dbd"/><stop offset="0.1250" stop-color="#412dbd"/><stop offset="0.1667" stop-color="#412dbd"/><stop offset="0.2083" stop-color="#412dbd"/><stop offset="0.2500" stop-color="#412dbd"/><stop offset="0.2917" stop-color="#412ebe"/><stop offset="0.3333" stop-color="#422ebf"/><stop offset="0.3750" stop-color="#422fc1"/><stop offset="0.4167" stop-color="#422fc2"/><stop offset="0.4583" stop-color="#4230c4"/><stop offset="0.5000" stop-color="#4331c7"/><stop offset="0.5417" stop-color="#4332c9"/><stop offset="0.5833" stop-color="#4433cc"/><stop offset="0.6250" stop-color="#4434cf"/><stop offset="0.6667" stop-color="#4536d2"/><stop offset="0.7083" stop-color="#4537d6"/><stop offset="0.7500" stop-color="#4539d9"/><stop offset="0.7917" stop-color="#463bdc"/><stop offset="0.8333" stop-color="#463cdf"/><stop offset="0.8750" stop-color="#473fe2"/><stop offset="0.9167" stop-color="#4741e5"/><stop offset="0.9583" stop-color="#4743e7"/><stop offset="1.0000" stop-color="#4745e9"/></linearGradient>
<linearGradient id="d42" x1="0" y1="0" x2="0" y2="1"><stop offset="0.0000" stop-color="#3f29b2"/><stop offset="0.0417" stop-color="#3f29b2"/><stop offset="0.0833" stop-color="#3f29b2"/><stop offset="0.1250" stop-color="#3f29b2"/><stop offset="0.1667" stop-color="#402ab3"/><stop offset="0.2083" stop-color="#402ab4"/><stop offset="0.2500" stop-color="#402bb6"/><stop offset="0.2917" stop-color="#402bb7"/><stop offset="0.3333" stop-color="#412cb9"/><stop offset="0.3750" stop-color="#412dbc"/><stop offset="0.4167" stop-color="#422ebe"/><stop offset="0.4583" stop-color="#422fc1"/><stop offset="0.5000" stop-color="#4230c4"/><stop offset="0.5417" stop-color="#4331c8"/><stop offset="0.5833" stop-color="#4433cb"/><stop offset="0.6250" stop-color="#4434cf"/><stop offset="0.6667" stop-color="#4535d2"/><stop offset="0.7083" stop-color="#4537d6"/><stop offset="0.7500" stop-color="#4639d9"/><stop offset="0.7917" stop-color="#463bdc"/><stop offset="0.8333" stop-color="#463ddf"/><stop offset="0.8750" stop-color="#473fe2"/><stop offset="0.9167" stop-color="#4741e5"/><stop offset="0.9583" stop-color="#4743e7"/><stop offset="1.0000" stop-color="#4745e9"/></linearGradient>
<linearGradient id="d43" x1="0" y1="0" x2="0" y2="1"><stop offset="0.0000" stop-color="#3f29b1"/><stop offset="0.0417" stop-color="#3f29b1"/><stop offset="0.0833" stop-color="#3f29b2"/><stop offset="0.1250" stop-color="#402ab3"/><stop offset="0.1667" stop-color="#402ab4"/><stop offset="0.2083" stop-color="#402bb6"/><stop offset="0.2500" stop-color="#402bb8"/><stop offset="0.2917" stop-color="#412cba"/><stop offset="0.3333" stop-color="#412dbc"/><stop offset="0.3750" stop-color="#422ebf"/><stop offset="0.4167" stop-color="#422fc2"/><stop offset="0.4583" stop-color="#4330c5"/><stop offset="0.5000" stop-color="#4332c8"/><stop offset="0.5417" stop-color="#4433cc"/><stop offset="0.5833" stop-color="#4434cf"/><stop offset="0.6250" stop-color="#4536d2"/><stop offset="0.6667" stop-color="#4537d6"/><stop offset="0.7083" stop-color="#4539d9"/><stop offset="0.7500" stop-color="#463adc"/><stop offset="0.7917" stop-color="#463cdf"/><stop offset="0.8333" stop-color="#463ee1"/><stop offset="0.8750" stop-color="#4740e3"/><stop offset="0.9167" stop-color="#4742e6"/><stop offset="0.9583" stop-color="#4743e8"/><stop offset="1.0000" stop-color="#4745e9"/></linearGradient>
<linearGradient id="d44" x1="0" y1="0" x2="0" y2="1"><stop offset="0.0000" stop-color="#402bb7"/><stop offset="0.0417" stop-color="#402bb8"/><stop offset="0.0833" stop-color="#412cb9"/><stop offset="0.1250" stop-color="#412cba"/><stop offset="0.1667" stop-color="#412dbc"/><stop offset="0.2083" stop-color="#412ebe"/><stop offset="0.2500" stop-color="#422ec0"/><stop offset="0.2917" stop-color="#422fc2"/><stop offset="0.3333" stop-color="#4330c5"/><stop offset="0.3750" stop-color="#4331c7"/><stop offset="0.4167" stop-color="#4332ca"/><stop offset="0.4583" stop-color="#4433cd"/><stop offset="0.5000" stop-color="#4434d0"/><stop offset="0.5417" stop-color="#4536d3"/><stop offset="0.5833" stop-color="#4537d5"/><stop offset="0.6250" stop-color="#4538d8"/><stop offset="0.6667" stop-color="#463adb"/><stop offset="0.7083" stop-color="#463bdd"/><stop offset="0.7500" stop-color="#463ddf"/><stop offset="0.7917" stop-color="#473ee1"/><stop offset="0.8333" stop-color="#4740e3"/><stop offset="0.8750" stop-color="#4741e5"/><stop offset="0.9167" stop-color="#4743e7"/><stop offset="0.9583" stop-color="#4744e8"/><stop offset="1.0000" stop-color="#4745e9"/></linearGradient>
<linearGradient id="d45" x1="0" y1="0" x2="0" y2="1"><stop offset="0.0000" stop-color="#422fc1"/><stop offset="0.0417" stop-color="#422fc2"/><stop offset="0.0833" stop-color="#4230c3"/><stop offset="0.1250" stop-color="#4330c5"/><stop offset="0.1667" stop-color="#4331c6"/><stop offset="0.2083" stop-color="#4332c8"/><stop offset="0.2500" stop-color="#4332ca"/><stop offset="0.2917" stop-color="#4433cc"/><stop offset="0.3333" stop-color="#4434ce"/><stop offset="0.3750" stop-color="#4435d1"/><stop offset="0.4167" stop-color="#4536d3"/><stop offset="0.4583" stop-color="#4537d5"/><stop offset="0.5000" stop-color="#4538d7"/><stop offset="0.5417" stop-color="#4639d9"/><stop offset="0.5833" stop-color="#463adb"/><stop offset="0.6250" stop-color="#463bdd"/><stop offset="0.6667" stop-color="#463ddf"/><stop offset="0.7083" stop-color="#463ee1"/><stop offset="0.7500" stop-color="#473fe2"/><stop offset="0.7917" stop-color="#4740e4"/><stop offset="0.8333" stop-color="#4741e5"/><stop offset="0.8750" stop-color="#4742e6"/><stop offset="0.9167" stop-color="#4743e7"/><stop offset="0.9583" stop-color="#4744e8"/><stop offset="1.0000" stop-color="#4745e9"/></linearGradient>
<linearGradient id="d46" x1="0" y1="0" x2="0" y2="1"><stop offset="0.0000" stop-color="#4433cc"/><stop offset="0.0417" stop-color="#4433cd"/><stop offset="0.0833" stop-color="#4434ce"/><stop offset="0.1250" stop-color="#4434d0"/><stop offset="0.1667" stop-color="#4435d1"/><stop offset="0.2083" stop-color="#4536d2"/><stop offset="0.2500" stop-color="#4536d4"/><stop offset="0.2917" stop-color="#4537d6"/><stop offset="0.3333" stop-color="#4538d7"/><stop offset="0.3750" stop-color="#4539d9"/><stop offset="0.4167" stop-color="#463ada"/><stop offset="0.4583" stop-color="#463adc"/><stop offset="0.5000" stop-color="#463bdd"/><stop offset="0.5417" stop-color="#463cdf"/><stop offset="0.5833" stop-color="#463de0"/><stop offset="0.6250" stop-color="#473ee1"/><stop offset="0.6667" stop-color="#473fe3"/><stop offset="0.7083" stop-color="#4740e4"/><stop offset="0.7500" stop-color="#4741e5"/><stop offset="0.7917" stop-color="#4742e6"/><stop offset="0.8333" stop-color="#4743e7"/><stop offset="0.8750" stop-color="#4743e7"/><stop offset="0.9167" stop-color="#4744e8"/><stop offset="0.9583" stop-color="#4745e9"/><stop offset="1.0000" stop-color="#4745e9"/></linearGradient>
<linearGradient id="d47" x1="0" y1="0" x2="0" y2="1"><stop offset="0.0000" stop-color="#4537d6"/><stop offset="0.0417" stop-color="#4537d7"/><stop offset="0.0833" stop-color="#4538d7"/><stop offset="0.1250" stop-color="#4539d8"/><stop offset="0.1667" stop-color="#4639d9"/><stop offset="0.2083" stop-color="#463ada"/><stop offset="0.2500" stop-color="#463adc"/><stop offset="0.2917" stop-color="#463bdd"/><stop offset="0.3333" stop-color="#463cde"/><stop offset="0.3750" stop-color="#463cdf"/><stop offset="0.4167" stop-color="#463de0"/><stop offset="0.4583" stop-color="#463ee1"/><stop offset="0.5000" stop-color="#473fe2"/><stop offset="0.5417" stop-color="#473fe3"/><stop offset="0.5833" stop-color="#4740e4"/><stop offset="0.6250" stop-color="#4741e4"/><stop offset="0.6667" stop-color="#4741e5"/><stop offset="0.7083" stop-color="#4742e6"/><stop offset="0.7500" stop-color="#4742e7"/><stop offset="0.7917" stop-color="#4743e7"/><stop offset="0.8333" stop-color="#4744e8"/><stop offset="0.8750" stop-color="#4744e8"/><stop offset="0.9167" stop-color="#4744e9"/><stop offset="0.9583" stop-color="#4745e9"/><stop offset="1.0000" stop-color="#4745e9"/></linearGradient>
<linearGradient id="d48" x1="0" y1="0" x2="0" y2="1"><stop offset="0.0000" stop-color="#463bdd"/><stop offset="0.0417" stop-color="#463bdd"/><stop offset="0.0833" stop-color="#463cde"/><stop offset="0.1250" stop-color="#463cdf"/><stop offset="0.1667" stop-color="#463ddf"/><stop offset="0.2083" stop-color="#463de0"/><stop offset="0.2500" stop-color="#463ee1"/><stop offset="0.2917" stop-color="#473ee1"/><stop offset="0.3333" stop-color="#473fe2"/><stop offset="0.3750" stop-color="#473fe3"/><stop offset="0.4167" stop-color="#4740e4"/><stop offset="0.4583" stop-color="#4740e4"/><stop offset="0.5000" stop-color="#4741e5"/><stop offset="0.5417" stop-color="#4741e5"/><stop offset="0.5833" stop-color="#4742e6"/><stop offset="0.6250" stop-color="#4742e6"/><stop offset="0.6667" stop-color="#4743e7"/><stop offset="0.7083" stop-color="#4743e7"/><stop offset="0.7500" stop-color="#4744e8"/><stop offset="0.7917" stop-color="#4744e8"/><stop offset="0.8333" stop-color="#4744e8"/><stop offset="0.8750" stop-color="#4744e9"/><stop offset="0.9167" stop-color="#4745e9"/><stop offset="0.9583" stop-color="#4745e9"/><stop offset="1.0000" stop-color="#4745e9"/></linearGradient>
<linearGradient id="d49" x1="0" y1="0" x2="0" y2="1"><stop offset="0.0000" stop-color="#473ee1"/><stop offset="0.0417" stop-color="#473fe2"/><stop offset="0.0833" stop-color="#473fe2"/><stop offset="0.1250" stop-color="#473fe3"/><stop offset="0.1667" stop-color="#4740e3"/><stop offset="0.2083" stop-color="#4740e4"/><stop offset="0.2500" stop-color="#4740e4"/><stop offset="0.2917" stop-color="#4741e5"/><stop offset="0.3333" stop-color="#4741e5"/><stop offset="0.3750" stop-color="#4742e6"/><stop offset="0.4167" stop-color="#4742e6"/><stop offset="0.4583" stop-color="#4742e6"/><stop offset="0.5000" stop-color="#4743e7"/><stop offset="0.5417" stop-color="#4743e7"/><stop offset="0.5833" stop-color="#4743e7"/><stop offset="0.6250" stop-color="#4744e8"/><stop offset="0.6667" stop-color="#4744e8"/><stop offset="0.7083" stop-color="#4744e8"/><stop offset="0.7500" stop-color="#4744e8"/><stop offset="0.7917" stop-color="#4744e9"/><stop offset="0.8333" stop-color="#4745e9"/><stop offset="0.8750" stop-color="#4745e9"/><stop offset="0.9167" stop-color="#4745e9"/><stop offset="0.9583" stop-color="#4745e9"/><stop offset="1.0000" stop-color="#4745e9"/></linearGradient>
<linearGradient id="d50" x1="0" y1="0" x2="0" y2="1"><stop offset="0.0000" stop-color="#4741e5"/><stop offset="0.0417" stop-color="#4741e5"/><stop offset="0.0833" stop-color="#4741e5"/><stop offset="0.1250" stop-color="#4741e6"/><stop offset="0.1667" stop-color="#4742e6"/><stop offset="0.2083" stop-color="#4742e6"/><stop offset="0.2500" stop-color="#4742e6"/><stop offset="0.2917" stop-color="#4743e7"/><stop offset="0.3333" stop-color="#4743e7"/><stop offset="0.3750" stop-color="#4743e7"/><stop offset="0.4167" stop-color="#4743e7"/><stop offset="0.4583" stop-color="#4743e8"/><stop offset="0.5000" stop-color="#4744e8"/><stop offset="0.5417" stop-color="#4744e8"/><stop offset="0.5833" stop-color="#4744e8"/><stop offset="0.6250" stop-color="#4744e8"/><stop offset="0.6667" stop-color="#4744e9"/><stop offset="0.7083" stop-color="#4745e9"/><stop offset="0.7500" stop-color="#4745e9"/><stop offset="0.7917" stop-color="#4745e9"/><stop offset="0.8333" stop-color="#4745e9"/><stop offset="0.8750" stop-color="#4745e9"/><stop offset="0.9167" stop-color="#4745e9"/><stop offset="0.9583" stop-color="#4745e9"/><stop offset="1.0000" stop-color="#4745e9"/></linearGradient>
<linearGradient id="d51" x1="0" y1="0" x2="0" y2="1"><stop offset="0.0000" stop-color="#4742e7"/><stop offset="0.0417" stop-color="#4743e7"/><stop offset="0.0833" stop-color="#4743e7"/><stop offset="0.1250" stop-color="#4743e7"/><stop offset="0.1667" stop-color="#4743e7"/><stop offset="0.2083" stop-color="#4743e7"/><stop offset="0.2500" stop-color="#4744e8"/><stop offset="0.2917" stop-color="#4744e8"/><stop offset="0.3333" stop-color="#4744e8"/><stop offset="0.3750" stop-color="#4744e8"/><stop offset="0.4167" stop-color="#4744e8"/><stop offset="0.4583" stop-color="#4744e8"/><stop offset="0.5000" stop-color="#4744e8"/><stop offset="0.5417" stop-color="#4744e9"/><stop offset="0.5833" stop-color="#4745e9"/><stop offset="0.6250" stop-color="#4745e9"/><stop offset="0.6667" stop-color="#4745e9"/><stop offset="0.7083" stop-color="#4745e9"/><stop offset="0.7500" stop-color="#4745e9"/><stop offset="0.7917" stop-color="#4745e9"/><stop offset="0.8333" stop-color="#4745e9"/><stop offset="0.8750" stop-color="#4745e9"/><stop offset="0.9167" stop-color="#4745e9"/><stop offset="0.9583" stop-color="#4745e9"/><stop offset="1.0000" stop-color="#4745e9"/></linearGradient>
<linearGradient id="d52" x1="0" y1="0" x2="0" y2="1"><stop offset="0.0000" stop-color="#4744e8"/><stop offset="0.0417" stop-color="#4744e8"/><stop offset="0.0833" stop-color="#4744e8"/><stop offset="0.1250" stop-color="#4744e8"/><stop offset="0.1667" stop-color="#4744e8"/><stop offset="0.2083" stop-color="#4744e8"/><stop offset="0.2500" stop-color="#4744e8"/><stop offset="0.2917" stop-color="#4744e8"/><stop offset="0.3333" stop-color="#4744e9"/><stop offset="0.3750" stop-color="#4745e9"/><stop offset="0.4167" stop-color="#4745e9"/><stop offset="0.4583" stop-color="#4745e9"/><stop offset="0.5000" stop-color="#4745e9"/><stop offset="0.5417" stop-color="#4745e9"/><stop offset="0.5833" stop-color="#4745e9"/><stop offset="0.6250" stop-color="#4745e9"/><stop offset="0.6667" stop-color="#4745e9"/><stop offset="0.7083" stop-color="#4745e9"/><stop offset="0.7500" stop-color="#4745e9"/><stop offset="0.7917" stop-color="#4745e9"/><stop offset="0.8333" stop-color="#4745e9"/><stop offset="0.8750" stop-color="#4745e9"/><stop offset="0.9167" stop-color="#4745e9"/><stop offset="0.9583" stop-color="#4745e9"/><stop offset="1.0000" stop-color="#4745e9"/></linearGradient>
<linearGradient id="cbd" x1="0" y1="0" x2="0" y2="1"><stop offset="0.0000" stop-color="#f9fb15"/><stop offset="0.0312" stop-color="#f6ef20"/><stop offset="0.0625" stop-color="#f5e327"/><stop offset="0.0938" stop-color="#f9d62d"/><stop offset="0.1250" stop-color="#feca33"/><stop offset="0.1562" stop-color="#febe3c"/><stop offset="0.1875" stop-color="#f1ba37"/><stop offset="0.2188" stop-color="#debc2a"/><stop offset="0.2500" stop-color="#c8c129"/><stop offset="0.2812" stop-color="#afc637"/><stop offset="0.3125" stop-color="#94ca4a"/><stop offset="0.3438" stop-color="#77cc60"/><stop offset="0.3750" stop-color="#5ccc76"/><stop offset="0.4062" stop-color="#44ca8a"/><stop offset="0.4375" stop-color="#34c79c"/><stop offset="0.4688" stop-color="#28c2ab"/><stop offset="0.5000" stop-color="#12beb9"/><stop offset="0.5312" stop-color="#01b9c6"/><stop offset="0.5625" stop-color="#0cb3d3"/><stop offset="0.5938" stop-color="#1aacdd"/><stop offset="0.6250" stop-color="#21a3e3"/><stop offset="0.6562" stop-color="#269ae9"/><stop offset="0.6875" stop-color="#2c90f0"/><stop offset="0.7188" stop-color="#2e85f8"/><stop offset="0.7500" stop-color="#347afd"/><stop offset="0.7812" stop-color="#3f6efe"/><stop offset="0.8125" stop-color="#4562fc"/><stop offset="0.8438" stop-color="#4757f7"/><stop offset="0.8750" stop-color="#484cef"/><stop offset="0.9062" stop-color="#4741e5"/><stop offset="0.9375" stop-color="#4536d5"/><stop offset="0.9688" stop-color="#422ebf"/><stop offset="1.0000" stop-color="#3e26a8"/></linearGradient>
</defs>
<rect x="53.20" y="0.80" width="135.20" height="164.80" fill="#484bef"/>
<ellipse cx="122.00" cy="82.50" rx="16.00" ry="19.50" fill="url(#halo)"/>
<ellipse cx="122.00" cy="82.50" rx="6.00" ry="7.30" fill="url(#core)"/>
<ellipse cx="122.00" cy="82.50" rx="6.35" ry="7.70" fill="none" stroke="#e4e4ff" stroke-width="1.6"/>
<rect x="80.8" y="45.1" width="82.8" height="74.2" fill="none" stroke="#d2143c" stroke-width="1.3"/>
<rect x="101.0" y="59.3" width="41.9" height="46.2" fill="none" stroke="#08083c" stroke-width="1.5"/>
<rect x="53.20" y="0.80" width="135.20" height="164.80" fill="none" stroke="#0a0a14" stroke-width="1.4"/>
<text x="69.00" y="184.77" font-size="12.20" text-anchor="middle">-600</text>
<text x="95.40" y="184.77" font-size="12.20" text-anchor="middle">-300</text>
<text x="121.80" y="184.77" font-size="12.20" text-anchor="middle">0</text>
<text x="148.30" y="184.77" font-size="12.20" text-anchor="middle">300</text>
<text x="175.00" y="184.77" font-size="12.20" text-anchor="middle">600</text>
<text x="47.60" y="24.37" font-size="12.20" text-anchor="end">600</text>
<text x="47.60" y="55.77" font-size="12.20" text-anchor="end">300</text>
<text x="47.60" y="87.07" font-size="12.20" text-anchor="end">0</text>
<text x="47.60" y="118.67" font-size="12.20" text-anchor="end">-300</text>
<text x="47.60" y="150.27" font-size="12.20" text-anchor="end">-600</text>
<text x="121.30" y="201.64" font-size="13.80" text-anchor="middle">X (km)</text>
<text transform="translate(18.24 83.50) rotate(-90)" font-size="13.80" text-anchor="middle">Y (km)</text>
<text x="174.50" y="21.11" font-size="12.60" text-anchor="middle" fill="#ffffff" class="w">(a)</text>
<rect x="196.60" y="1.20" width="13.40" height="164.60" fill="url(#cba)" stroke="#3a3a3a" stroke-width="0.6"/>
<text x="214.80" y="12.47" font-size="11.10" text-anchor="start">0.25</text>
<line x1="208.3" x2="210" y1="8.50" y2="8.50" stroke="#222" stroke-width="0.7"/>
<text x="214.80" y="40.07" font-size="11.10" text-anchor="start">0.2</text>
<line x1="208.3" x2="210" y1="36.10" y2="36.10" stroke="#222" stroke-width="0.7"/>
<text x="214.80" y="67.67" font-size="11.10" text-anchor="start">0.15</text>
<line x1="208.3" x2="210" y1="63.70" y2="63.70" stroke="#222" stroke-width="0.7"/>
<text x="214.80" y="95.37" font-size="11.10" text-anchor="start">0.1</text>
<line x1="208.3" x2="210" y1="91.40" y2="91.40" stroke="#222" stroke-width="0.7"/>
<text x="214.80" y="123.57" font-size="11.10" text-anchor="start">0.05</text>
<line x1="208.3" x2="210" y1="119.60" y2="119.60" stroke="#222" stroke-width="0.7"/>
<text x="214.80" y="151.27" font-size="11.10" text-anchor="start">0</text>
<line x1="208.3" x2="210" y1="147.30" y2="147.30" stroke="#222" stroke-width="0.7"/>
<text x="203.00" y="181.47" font-size="11.10" text-anchor="middle">m</text>
<rect x="305.60" y="0.60" width="173.60" height="165.70" fill="#fff" stroke="#6c6c6c" stroke-width="0.9"/>
<rect x="305.60" y="0" width="173.60" height="1.4" fill="#8c8c8c"/>
<line x1="349.10" x2="349.10" y1="166.30" y2="164.30" stroke="#444" stroke-width="0.8"/>
<line x1="349.10" x2="349.10" y1="0.60" y2="3.00" stroke="#444" stroke-width="0.8"/>
<line x1="392.40" x2="392.40" y1="166.30" y2="164.30" stroke="#444" stroke-width="0.8"/>
<line x1="392.40" x2="392.40" y1="0.60" y2="3.00" stroke="#444" stroke-width="0.8"/>
<line x1="435.70" x2="435.70" y1="166.30" y2="164.30" stroke="#444" stroke-width="0.8"/>
<line x1="435.70" x2="435.70" y1="0.60" y2="3.00" stroke="#444" stroke-width="0.8"/>
<line x1="305.60" x2="307.60" y1="8.75" y2="8.75" stroke="#444" stroke-width="0.8"/>
<line x1="479.20" x2="477.20" y1="8.75" y2="8.75" stroke="#444" stroke-width="0.8"/>
<line x1="305.60" x2="307.60" y1="83.75" y2="83.75" stroke="#444" stroke-width="0.8"/>
<line x1="479.20" x2="477.20" y1="83.75" y2="83.75" stroke="#444" stroke-width="0.8"/>
<line x1="305.60" x2="307.60" y1="158.80" y2="158.80" stroke="#444" stroke-width="0.8"/>
<line x1="479.20" x2="477.20" y1="158.80" y2="158.80" stroke="#444" stroke-width="0.8"/>
<polyline points="305.80,83.75 306.02,80.65 306.23,77.55 306.45,74.46 306.67,71.39 306.88,68.34 307.10,65.33 307.32,62.34 307.53,59.39 307.75,56.49 307.97,53.64 308.18,50.84 308.40,48.10 308.61,45.43 308.83,42.82 309.05,40.29 309.26,37.83 309.48,35.46 309.70,33.17 309.91,30.97 310.13,28.86 310.35,26.84 310.56,24.92 310.78,23.11 311.00,21.39 311.21,19.78 311.43,18.28 311.65,16.88 311.86,15.59 312.08,14.42 312.30,13.35 312.51,12.40 312.73,11.56 312.94,10.83 313.16,10.21 313.38,9.70 313.59,9.30 313.81,9.01 314.03,8.83 314.24,8.75 314.46,8.78 314.68,8.91 314.89,9.15 315.11,9.48 315.33,9.91 315.54,10.43 315.76,11.04 315.98,11.73 316.19,12.52 316.41,13.38 316.62,14.32 316.84,15.34 317.06,16.43 317.27,17.58 317.49,18.80 317.71,20.07 317.92,21.41 318.14,22.79 318.36,24.22 318.57,25.70 318.79,27.22 319.01,28.77 319.22,30.36 319.44,31.98 319.66,33.62 319.87,35.28 320.09,36.96 320.31,38.65 320.52,40.35 320.74,42.06 320.95,43.77 321.17,45.49 321.39,47.20 321.60,48.90 321.82,50.59 322.04,52.27 322.25,53.94 322.47,55.59 322.69,57.22 322.90,58.83 323.12,60.41 323.34,61.96 323.55,63.49 323.77,64.98 323.99,66.45 324.20,67.88 324.42,69.27 324.64,70.63 324.85,71.95 325.07,73.23 325.29,74.47 325.50,75.67 325.72,76.83 325.93,77.95 326.15,79.02 326.37,80.05 326.58,81.04 326.80,81.99 327.02,82.89 327.23,83.75 327.45,84.57 327.67,85.35 327.88,86.09 328.10,86.78 328.32,87.43 328.53,88.05 328.75,88.62 328.97,89.15 329.18,89.65 329.40,90.11 329.62,90.53 329.83,90.92 330.05,91.28 330.26,91.60 330.48,91.89 330.70,92.14 330.91,92.37 331.13,92.57 331.35,92.74 331.56,92.89 331.78,93.01 332.00,93.10 332.21,93.17 332.43,93.22 332.65,93.25 332.86,93.26 333.08,93.25 333.30,93.22 333.51,93.18 333.73,93.12 333.94,93.04 334.16,92.95 334.38,92.85 334.59,92.74 334.81,92.62 335.03,92.49 335.24,92.35 335.46,92.20 335.68,92.04 335.89,91.88 336.11,91.71 336.33,91.54 336.54,91.36 336.76,91.18 336.98,91.00 337.19,90.81 337.41,90.62 337.63,90.44 337.84,90.25 338.06,90.06 338.28,89.87 338.49,89.68 338.71,89.49 338.92,89.30 339.14,89.12 339.36,88.94 339.57,88.76 339.79,88.58 340.01,88.40 340.22,88.23 340.44,88.06 340.66,87.90 340.87,87.73 341.09,87.58 341.31,87.42 341.52,87.27 341.74,87.12 341.96,86.98 342.17,86.84 342.39,86.70 342.61,86.57 342.82,86.45 343.04,86.32 343.25,86.20 343.47,86.09 343.69,85.98 343.90,85.87 344.12,85.77 344.34,85.67 344.55,85.57 344.77,85.48 344.99,85.39 345.20,85.31 345.42,85.23 345.64,85.15 345.85,85.08 346.07,85.00 346.29,84.94 346.50,84.87 346.72,84.81 346.94,84.75 347.15,84.69 347.37,84.64 347.58,84.59 347.80,84.54 348.02,84.49 348.23,84.45 348.45,84.41 348.67,84.37 348.88,84.33 349.10,84.30 349.32,84.26 349.53,84.23 349.75,84.20 349.97,84.17 350.18,84.14 350.40,84.12 350.62,84.10 350.83,84.07 351.05,84.05 351.26,84.03 351.48,84.01 351.70,84.00 351.91,83.98 352.13,83.96 352.35,83.95 352.56,83.93 352.78,83.92 353.00,83.91 353.21,83.90 353.43,83.89 353.65,83.88 353.86,83.87 354.08,83.86 354.30,83.85 354.51,83.84 354.73,83.84 354.95,83.83 355.16,83.83 355.38,83.82 355.60,83.81 355.81,83.81 356.03,83.80 356.24,83.80 356.46,83.80 356.68,83.79 356.89,83.79 357.11,83.79 357.33,83.78 357.54,83.78 357.76,83.78 357.98,83.78 358.19,83.77 358.41,83.77 358.63,83.77 358.84,83.77 359.06,83.77 359.28,83.77 359.49,83.76 359.71,83.76 359.93,83.76 360.14,83.76 360.36,83.76 360.57,83.76 360.79,83.76 361.01,83.76 361.22,83.76 361.44,83.76 361.66,83.76 361.87,83.76 362.09,83.75 362.31,83.75 362.52,83.75 362.74,83.75 362.96,83.75 363.17,83.75 363.39,83.75 363.61,83.75 363.82,83.75 364.04,83.75 364.25,83.75 364.47,83.75 364.69,83.75 364.90,83.75 365.12,83.75 365.34,83.75 365.55,83.75 365.77,83.75 365.99,83.75 366.20,83.75 366.42,83.75 366.64,83.75 366.85,83.75 367.07,83.75 367.29,83.75 367.50,83.75 367.72,83.75 367.94,83.75 368.15,83.75 368.37,83.75 368.59,83.75 368.80,83.75 369.02,83.75 369.23,83.75 369.45,83.75 369.67,83.75 369.88,83.75 370.10,83.75 370.32,83.75 370.53,83.75 370.75,83.75 370.97,83.75 371.18,83.75 371.40,83.75 371.62,83.75 371.83,83.75 372.05,83.75 372.27,83.75 372.48,83.75 372.70,83.75 372.92,83.75 373.13,83.75 373.35,83.75 373.56,83.75 373.78,83.75 374.00,83.75 374.21,83.75 374.43,83.75 374.65,83.75 374.86,83.75 375.08,83.75 375.30,83.75 375.51,83.75 375.73,83.75 375.95,83.75 376.16,83.75 376.38,83.75 376.60,83.75 376.81,83.75 377.03,83.75 377.25,83.75 377.46,83.75 377.68,83.75 377.89,83.75 378.11,83.75 378.33,83.75 378.54,83.75 378.76,83.75 378.98,83.75 379.19,83.75 379.41,83.75 379.63,83.75 379.84,83.75 380.06,83.75 380.28,83.75 380.49,83.75 380.71,83.75 380.93,83.75 381.14,83.75 381.36,83.75 381.58,83.75 381.79,83.75 382.01,83.75 382.22,83.75 382.44,83.75 382.66,83.75 382.87,83.75 383.09,83.75 383.31,83.75 383.52,83.75 383.74,83.75 383.96,83.75 384.17,83.75 384.39,83.75 384.61,83.75 384.82,83.75 385.04,83.75 385.26,83.75 385.47,83.75 385.69,83.75 385.91,83.75 386.12,83.75 386.34,83.75 386.55,83.75 386.77,83.75 386.99,83.75 387.20,83.75 387.42,83.75 387.64,83.75 387.85,83.75 388.07,83.75 388.29,83.75 388.50,83.75 388.72,83.75 388.94,83.75 389.15,83.75 389.37,83.75 389.59,83.75 389.80,83.75 390.02,83.75 390.24,83.75 390.45,83.75 390.67,83.75 390.88,83.75 391.10,83.75 391.32,83.75 391.53,83.75 391.75,83.75 391.97,83.75 392.18,83.75 392.40,83.75 392.62,83.75 392.83,83.75 393.05,83.75 393.27,83.75 393.48,83.75 393.70,83.75 393.92,83.75 394.13,83.75 394.35,83.75 394.56,83.75 394.78,83.75 395.00,83.75 395.21,83.75 395.43,83.75 395.65,83.75 395.86,83.75 396.08,83.75 396.30,83.75 396.51,83.75 396.73,83.75 396.95,83.75 397.16,83.75 397.38,83.75 397.60,83.75 397.81,83.75 398.03,83.75 398.25,83.75 398.46,83.75 398.68,83.75 398.89,83.75 399.11,83.75 399.33,83.75 399.54,83.75 399.76,83.75 399.98,83.75 400.19,83.75 400.41,83.75 400.63,83.75 400.84,83.75 401.06,83.75 401.28,83.75 401.49,83.75 401.71,83.75 401.93,83.75 402.14,83.75 402.36,83.75 402.58,83.75 402.79,83.75 403.01,83.75 403.23,83.75 403.44,83.75 403.66,83.75 403.87,83.75 404.09,83.75 404.31,83.75 404.52,83.75 404.74,83.75 404.96,83.75 405.17,83.75 405.39,83.75 405.61,83.75 405.82,83.75 406.04,83.75 406.26,83.75 406.47,83.75 406.69,83.75 406.91,83.75 407.12,83.75 407.34,83.75 407.56,83.75 407.77,83.75 407.99,83.75 408.20,83.75 408.42,83.75 408.64,83.75 408.85,83.75 409.07,83.75 409.29,83.75 409.50,83.75 409.72,83.75 409.94,83.75 410.15,83.75 410.37,83.75 410.59,83.75 410.80,83.75 411.02,83.75 411.24,83.75 411.45,83.75 411.67,83.75 411.88,83.75 412.10,83.75 412.32,83.75 412.53,83.75 412.75,83.75 412.97,83.75 413.18,83.75 413.40,83.75 413.62,83.75 413.83,83.75 414.05,83.75 414.27,83.75 414.48,83.75 414.70,83.75 414.92,83.75 415.13,83.75 415.35,83.75 415.57,83.75 415.78,83.75 416.00,83.75 416.22,83.75 416.43,83.75 416.65,83.75 416.86,83.75 417.08,83.75 417.30,83.75 417.51,83.75 417.73,83.75 417.95,83.75 418.16,83.75 418.38,83.75 418.60,83.75 418.81,83.75 419.03,83.75 419.25,83.75 419.46,83.75 419.68,83.75 419.90,83.75 420.11,83.75 420.33,83.75 420.55,83.75 420.76,83.75 420.98,83.75 421.19,83.75 421.41,83.75 421.63,83.75 421.84,83.75 422.06,83.75 422.28,83.75 422.49,83.75 422.71,83.75 422.93,83.75 423.14,83.75 423.36,83.75 423.58,83.75 423.79,83.75 424.01,83.75 424.23,83.75 424.44,83.75 424.66,83.75 424.88,83.75 425.09,83.75 425.31,83.75 425.52,83.75 425.74,83.75 425.96,83.75 426.17,83.75 426.39,83.75 426.61,83.75 426.82,83.75 427.04,83.75 427.26,83.75 427.47,83.75 427.69,83.75 427.91,83.75 428.12,83.75 428.34,83.75 428.56,83.75 428.77,83.75 428.99,83.75 429.21,83.75 429.42,83.75 429.64,83.75 429.85,83.75 430.07,83.75 430.29,83.75 430.50,83.75 430.72,83.75 430.94,83.75 431.15,83.75 431.37,83.75 431.59,83.75 431.80,83.75 432.02,83.75 432.24,83.75 432.45,83.75 432.67,83.75 432.89,83.75 433.10,83.75 433.32,83.75 433.54,83.75 433.75,83.75 433.97,83.75 434.18,83.75 434.40,83.75 434.62,83.75 434.83,83.75 435.05,83.75 435.27,83.75 435.48,83.75 435.70,83.75 435.92,83.75 436.13,83.75 436.35,83.75 436.57,83.75 436.78,83.75 437.00,83.75 437.22,83.75 437.43,83.75 437.65,83.75 437.87,83.75 438.08,83.75 438.30,83.75 438.51,83.75 438.73,83.75 438.95,83.75 439.16,83.75 439.38,83.75 439.60,83.75 439.81,83.75 440.03,83.75 440.25,83.75 440.46,83.75 440.68,83.75 440.90,83.75 441.11,83.75 441.33,83.75 441.55,83.75 441.76,83.75 441.98,83.75 442.20,83.75 442.41,83.75 442.63,83.75 442.84,83.75 443.06,83.75 443.28,83.75 443.49,83.75 443.71,83.75 443.93,83.75 444.14,83.75 444.36,83.75 444.58,83.75 444.79,83.75 445.01,83.75 445.23,83.75 445.44,83.75 445.66,83.75 445.88,83.75 446.09,83.75 446.31,83.75 446.52,83.75 446.74,83.75 446.96,83.75 447.17,83.75 447.39,83.75 447.61,83.75 447.82,83.75 448.04,83.75 448.26,83.75 448.47,83.75 448.69,83.75 448.91,83.75 449.12,83.75 449.34,83.75 449.56,83.75 449.77,83.75 449.99,83.75 450.21,83.75 450.42,83.75 450.64,83.75 450.86,83.75 451.07,83.75 451.29,83.75 451.50,83.75 451.72,83.75 451.94,83.75 452.15,83.75 452.37,83.75 452.59,83.75 452.80,83.75 453.02,83.75 453.24,83.75 453.45,83.75 453.67,83.75 453.89,83.75 454.10,83.75 454.32,83.75 454.54,83.75 454.75,83.75 454.97,83.75 455.19,83.75 455.40,83.75 455.62,83.75 455.83,83.75 456.05,83.75 456.27,83.75 456.48,83.75 456.70,83.75 456.92,83.75 457.13,83.75 457.35,83.75 457.57,83.75 457.78,83.75 458.00,83.75 458.22,83.75 458.43,83.75 458.65,83.75 458.87,83.75 459.08,83.75 459.30,83.75 459.51,83.75 459.73,83.75 459.95,83.75 460.16,83.75 460.38,83.75 460.60,83.75 460.81,83.75 461.03,83.75 461.25,83.75 461.46,83.75 461.68,83.75 461.90,83.75 462.11,83.75 462.33,83.75 462.55,83.75 462.76,83.75 462.98,83.75 463.20,83.75 463.41,83.75 463.63,83.75 463.85,83.75 464.06,83.75 464.28,83.75 464.49,83.75 464.71,83.75 464.93,83.75 465.14,83.75 465.36,83.75 465.58,83.75 465.79,83.75 466.01,83.75 466.23,83.75 466.44,83.75 466.66,83.75 466.88,83.75 467.09,83.75 467.31,83.75 467.53,83.75 467.74,83.75 467.96,83.75 468.18,83.75 468.39,83.75 468.61,83.75 468.82,83.75 469.04,83.75 469.26,83.75 469.47,83.75 469.69,83.75 469.91,83.75 470.12,83.75 470.34,83.75 470.56,83.75 470.77,83.75 470.99,83.75 471.21,83.75 471.42,83.75 471.64,83.75 471.86,83.75 472.07,83.75 472.29,83.75 472.50,83.75 472.72,83.75 472.94,83.75 473.15,83.75 473.37,83.75 473.59,83.75" fill="none" stroke="#e4000c" stroke-width="2.7" stroke-linejoin="round" stroke-linecap="butt"/>
<polyline points="305.80,83.75 306.02,86.85 306.23,89.95 306.45,93.04 306.67,96.11 306.88,99.16 307.10,102.17 307.32,105.16 307.53,108.11 307.75,111.01 307.97,113.86 308.18,116.66 308.40,119.40 308.61,122.07 308.83,124.68 309.05,127.21 309.26,129.67 309.48,132.04 309.70,134.33 309.91,136.53 310.13,138.64 310.35,140.66 310.56,142.58 310.78,144.39 311.00,146.11 311.21,147.72 311.43,149.22 311.65,150.62 311.86,151.91 312.08,153.08 312.30,154.15 312.51,155.10 312.73,155.94 312.94,156.67 313.16,157.29 313.38,157.80 313.59,158.20 313.81,158.49 314.03,158.67 314.24,158.75 314.46,158.72 314.68,158.59 314.89,158.35 315.11,158.02 315.33,157.59 315.54,157.07 315.76,156.46 315.98,155.77 316.19,154.98 316.41,154.12 316.62,153.18 316.84,152.16 317.06,151.07 317.27,149.92 317.49,148.70 317.71,147.43 317.92,146.09 318.14,144.71 318.36,143.28 318.57,141.80 318.79,140.28 319.01,138.73 319.22,137.14 319.44,135.52 319.66,133.88 319.87,132.22 320.09,130.54 320.31,128.85 320.52,127.15 320.74,125.44 320.95,123.73 321.17,122.01 321.39,120.30 321.60,118.60 321.82,116.91 322.04,115.23 322.25,113.56 322.47,111.91 322.69,110.28 322.90,108.67 323.12,107.09 323.34,105.54 323.55,104.01 323.77,102.52 323.99,101.05 324.20,99.62 324.42,98.23 324.64,96.87 324.85,95.55 325.07,94.27 325.29,93.03 325.50,91.83 325.72,90.67 325.93,89.55 326.15,88.48 326.37,87.45 326.58,86.46 326.80,85.51 327.02,84.61 327.23,83.75 327.45,82.93 327.67,82.15 327.88,81.41 328.10,80.72 328.32,80.07 328.53,79.45 328.75,78.88 328.97,78.35 329.18,77.85 329.40,77.39 329.62,76.97 329.83,76.58 330.05,76.22 330.26,75.90 330.48,75.61 330.70,75.36 330.91,75.13 331.13,74.93 331.35,74.76 331.56,74.61 331.78,74.49 332.00,74.40 332.21,74.33 332.43,74.28 332.65,74.25 332.86,74.24 333.08,74.25 333.30,74.28 333.51,74.32 333.73,74.38 333.94,74.46 334.16,74.55 334.38,74.65 334.59,74.76 334.81,74.88 335.03,75.01 335.24,75.15 335.46,75.30 335.68,75.46 335.89,75.62 336.11,75.79 336.33,75.96 336.54,76.14 336.76,76.32 336.98,76.50 337.19,76.69 337.41,76.88 337.63,77.06 337.84,77.25 338.06,77.44 338.28,77.63 338.49,77.82 338.71,78.01 338.92,78.20 339.14,78.38 339.36,78.56 339.57,78.74 339.79,78.92 340.01,79.10 340.22,79.27 340.44,79.44 340.66,79.60 340.87,79.77 341.09,79.92 341.31,80.08 341.52,80.23 341.74,80.38 341.96,80.52 342.17,80.66 342.39,80.80 342.61,80.93 342.82,81.05 343.04,81.18 343.25,81.30 343.47,81.41 343.69,81.52 343.90,81.63 344.12,81.73 344.34,81.83 344.55,81.93 344.77,82.02 344.99,82.11 345.20,82.19 345.42,82.27 345.64,82.35 345.85,82.42 346.07,82.50 346.29,82.56 346.50,82.63 346.72,82.69 346.94,82.75 347.15,82.81 347.37,82.86 347.58,82.91 347.80,82.96 348.02,83.01 348.23,83.05 348.45,83.09 348.67,83.13 348.88,83.17 349.10,83.20 349.32,83.24 349.53,83.27 349.75,83.30 349.97,83.33 350.18,83.36 350.40,83.38 350.62,83.40 350.83,83.43 351.05,83.45 351.26,83.47 351.48,83.49 351.70,83.50 351.91,83.52 352.13,83.54 352.35,83.55 352.56,83.57 352.78,83.58 353.00,83.59 353.21,83.60 353.43,83.61 353.65,83.62 353.86,83.63 354.08,83.64 354.30,83.65 354.51,83.66 354.73,83.66 354.95,83.67 355.16,83.67 355.38,83.68 355.60,83.69 355.81,83.69 356.03,83.70 356.24,83.70 356.46,83.70 356.68,83.71 356.89,83.71 357.11,83.71 357.33,83.72 357.54,83.72 357.76,83.72 357.98,83.72 358.19,83.73 358.41,83.73 358.63,83.73 358.84,83.73 359.06,83.73 359.28,83.73 359.49,83.74 359.71,83.74 359.93,83.74 360.14,83.74 360.36,83.74 360.57,83.74 360.79,83.74 361.01,83.74 361.22,83.74 361.44,83.74 361.66,83.74 361.87,83.74 362.09,83.75 362.31,83.75 362.52,83.75 362.74,83.75 362.96,83.75 363.17,83.75 363.39,83.75 363.61,83.75 363.82,83.75 364.04,83.75 364.25,83.75 364.47,83.75 364.69,83.75 364.90,83.75 365.12,83.75 365.34,83.75 365.55,83.75 365.77,83.75 365.99,83.75 366.20,83.75 366.42,83.75 366.64,83.75 366.85,83.75 367.07,83.75 367.29,83.75 367.50,83.75 367.72,83.75 367.94,83.75 368.15,83.75 368.37,83.75 368.59,83.75 368.80,83.75 369.02,83.75 369.23,83.75 369.45,83.75 369.67,83.75 369.88,83.75 370.10,83.75 370.32,83.75 370.53,83.75 370.75,83.75 370.97,83.75 371.18,83.75 371.40,83.75 371.62,83.75 371.83,83.75 372.05,83.75 372.27,83.75 372.48,83.75 372.70,83.75 372.92,83.75 373.13,83.75 373.35,83.75 373.56,83.75 373.78,83.75 374.00,83.75 374.21,83.75 374.43,83.75 374.65,83.75 374.86,83.75 375.08,83.75 375.30,83.75 375.51,83.75 375.73,83.75 375.95,83.75 376.16,83.75 376.38,83.75 376.60,83.75 376.81,83.75 377.03,83.75 377.25,83.75 377.46,83.75 377.68,83.75 377.89,83.75 378.11,83.75 378.33,83.75 378.54,83.75 378.76,83.75 378.98,83.75 379.19,83.75 379.41,83.75 379.63,83.75 379.84,83.75 380.06,83.75 380.28,83.75 380.49,83.75 380.71,83.75 380.93,83.75 381.14,83.75 381.36,83.75 381.58,83.75 381.79,83.75 382.01,83.75 382.22,83.75 382.44,83.75 382.66,83.75 382.87,83.75 383.09,83.75 383.31,83.75 383.52,83.75 383.74,83.75 383.96,83.75 384.17,83.75 384.39,83.75 384.61,83.75 384.82,83.75 385.04,83.75 385.26,83.75 385.47,83.75 385.69,83.75 385.91,83.75 386.12,83.75 386.34,83.75 386.55,83.75 386.77,83.75 386.99,83.75 387.20,83.75 387.42,83.75 387.64,83.75 387.85,83.75 388.07,83.75 388.29,83.75 388.50,83.75 388.72,83.75 388.94,83.75 389.15,83.75 389.37,83.75 389.59,83.75 389.80,83.75 390.02,83.75 390.24,83.75 390.45,83.75 390.67,83.75 390.88,83.75 391.10,83.75 391.32,83.75 391.53,83.75 391.75,83.75 391.97,83.75 392.18,83.75 392.40,83.75 392.62,83.75 392.83,83.75 393.05,83.75 393.27,83.75 393.48,83.75 393.70,83.75 393.92,83.75 394.13,83.75 394.35,83.75 394.56,83.75 394.78,83.75 395.00,83.75 395.21,83.75 395.43,83.75 395.65,83.75 395.86,83.75 396.08,83.75 396.30,83.75 396.51,83.75 396.73,83.75 396.95,83.75 397.16,83.75 397.38,83.75 397.60,83.75 397.81,83.75 398.03,83.75 398.25,83.75 398.46,83.75 398.68,83.75 398.89,83.75 399.11,83.75 399.33,83.75 399.54,83.75 399.76,83.75 399.98,83.75 400.19,83.75 400.41,83.75 400.63,83.75 400.84,83.75 401.06,83.75 401.28,83.75 401.49,83.75 401.71,83.75 401.93,83.75 402.14,83.75 402.36,83.75 402.58,83.75 402.79,83.75 403.01,83.75 403.23,83.75 403.44,83.75 403.66,83.75 403.87,83.75 404.09,83.75 404.31,83.75 404.52,83.75 404.74,83.75 404.96,83.75 405.17,83.75 405.39,83.75 405.61,83.75 405.82,83.75 406.04,83.75 406.26,83.75 406.47,83.75 406.69,83.75 406.91,83.75 407.12,83.75 407.34,83.75 407.56,83.75 407.77,83.75 407.99,83.75 408.20,83.75 408.42,83.75 408.64,83.75 408.85,83.75 409.07,83.75 409.29,83.75 409.50,83.75 409.72,83.75 409.94,83.75 410.15,83.75 410.37,83.75 410.59,83.75 410.80,83.75 411.02,83.75 411.24,83.75 411.45,83.75 411.67,83.75 411.88,83.75 412.10,83.75 412.32,83.75 412.53,83.75 412.75,83.75 412.97,83.75 413.18,83.75 413.40,83.75 413.62,83.75 413.83,83.75 414.05,83.75 414.27,83.75 414.48,83.75 414.70,83.75 414.92,83.75 415.13,83.75 415.35,83.75 415.57,83.75 415.78,83.75 416.00,83.75 416.22,83.75 416.43,83.75 416.65,83.75 416.86,83.75 417.08,83.75 417.30,83.75 417.51,83.75 417.73,83.75 417.95,83.75 418.16,83.75 418.38,83.75 418.60,83.75 418.81,83.75 419.03,83.75 419.25,83.75 419.46,83.75 419.68,83.75 419.90,83.75 420.11,83.75 420.33,83.75 420.55,83.75 420.76,83.75 420.98,83.75 421.19,83.75 421.41,83.75 421.63,83.75 421.84,83.75 422.06,83.75 422.28,83.75 422.49,83.75 422.71,83.75 422.93,83.75 423.14,83.75 423.36,83.75 423.58,83.75 423.79,83.75 424.01,83.75 424.23,83.75 424.44,83.75 424.66,83.75 424.88,83.75 425.09,83.75 425.31,83.75 425.52,83.75 425.74,83.75 425.96,83.75 426.17,83.75 426.39,83.75 426.61,83.75 426.82,83.75 427.04,83.75 427.26,83.75 427.47,83.75 427.69,83.75 427.91,83.75 428.12,83.75 428.34,83.75 428.56,83.75 428.77,83.75 428.99,83.75 429.21,83.75 429.42,83.75 429.64,83.75 429.85,83.75 430.07,83.75 430.29,83.75 430.50,83.75 430.72,83.75 430.94,83.75 431.15,83.75 431.37,83.75 431.59,83.75 431.80,83.75 432.02,83.75 432.24,83.75 432.45,83.75 432.67,83.75 432.89,83.75 433.10,83.75 433.32,83.75 433.54,83.75 433.75,83.75 433.97,83.75 434.18,83.75 434.40,83.75 434.62,83.75 434.83,83.75 435.05,83.75 435.27,83.75 435.48,83.75 435.70,83.75 435.92,83.75 436.13,83.75 436.35,83.75 436.57,83.75 436.78,83.75 437.00,83.75 437.22,83.75 437.43,83.75 437.65,83.75 437.87,83.75 438.08,83.75 438.30,83.75 438.51,83.75 438.73,83.75 438.95,83.75 439.16,83.75 439.38,83.75 439.60,83.75 439.81,83.75 440.03,83.75 440.25,83.75 440.46,83.75 440.68,83.75 440.90,83.75 441.11,83.75 441.33,83.75 441.55,83.75 441.76,83.75 441.98,83.75 442.20,83.75 442.41,83.75 442.63,83.75 442.84,83.75 443.06,83.75 443.28,83.75 443.49,83.75 443.71,83.75 443.93,83.75 444.14,83.75 444.36,83.75 444.58,83.75 444.79,83.75 445.01,83.75 445.23,83.75 445.44,83.75 445.66,83.75 445.88,83.75 446.09,83.75 446.31,83.75 446.52,83.75 446.74,83.75 446.96,83.75 447.17,83.75 447.39,83.75 447.61,83.75 447.82,83.75 448.04,83.75 448.26,83.75 448.47,83.75 448.69,83.75 448.91,83.75 449.12,83.75 449.34,83.75 449.56,83.75 449.77,83.75 449.99,83.75 450.21,83.75 450.42,83.75 450.64,83.75 450.86,83.75 451.07,83.75 451.29,83.75 451.50,83.75 451.72,83.75 451.94,83.75 452.15,83.75 452.37,83.75 452.59,83.75 452.80,83.75 453.02,83.75 453.24,83.75 453.45,83.75 453.67,83.75 453.89,83.75 454.10,83.75 454.32,83.75 454.54,83.75 454.75,83.75 454.97,83.75 455.19,83.75 455.40,83.75 455.62,83.75 455.83,83.75 456.05,83.75 456.27,83.75 456.48,83.75 456.70,83.75 456.92,83.75 457.13,83.75 457.35,83.75 457.57,83.75 457.78,83.75 458.00,83.75 458.22,83.75 458.43,83.75 458.65,83.75 458.87,83.75 459.08,83.75 459.30,83.75 459.51,83.75 459.73,83.75 459.95,83.75 460.16,83.75 460.38,83.75 460.60,83.75 460.81,83.75 461.03,83.75 461.25,83.75 461.46,83.75 461.68,83.75 461.90,83.75 462.11,83.75 462.33,83.75 462.55,83.75 462.76,83.75 462.98,83.75 463.20,83.75 463.41,83.75 463.63,83.75 463.85,83.75 464.06,83.75 464.28,83.75 464.49,83.75 464.71,83.75 464.93,83.75 465.14,83.75 465.36,83.75 465.58,83.75 465.79,83.75 466.01,83.75 466.23,83.75 466.44,83.75 466.66,83.75 466.88,83.75 467.09,83.75 467.31,83.75 467.53,83.75 467.74,83.75 467.96,83.75 468.18,83.75 468.39,83.75 468.61,83.75 468.82,83.75 469.04,83.75 469.26,83.75 469.47,83.75 469.69,83.75 469.91,83.75 470.12,83.75 470.34,83.75 470.56,83.75 470.77,83.75 470.99,83.75 471.21,83.75 471.42,83.75 471.64,83.75 471.86,83.75 472.07,83.75 472.29,83.75 472.50,83.75 472.72,83.75 472.94,83.75 473.15,83.75 473.37,83.75 473.59,83.75" fill="none" stroke="#0404d2" stroke-width="2.7" stroke-linejoin="round" stroke-linecap="butt"/>
<text x="305.80" y="184.57" font-size="12.20" text-anchor="middle">0</text>
<text x="349.10" y="184.57" font-size="12.20" text-anchor="middle">200</text>
<text x="392.40" y="184.57" font-size="12.20" text-anchor="middle">400</text>
<text x="435.70" y="184.57" font-size="12.20" text-anchor="middle">600</text>
<text x="479.00" y="184.57" font-size="12.20" text-anchor="middle">800</text>
<text x="300.80" y="13.12" font-size="12.20" text-anchor="end">0.5</text>
<text x="300.80" y="88.12" font-size="12.20" text-anchor="end">0</text>
<text x="300.80" y="163.17" font-size="12.20" text-anchor="end">-0.5</text>
<text x="392.50" y="201.94" font-size="13.80" text-anchor="middle">Radius (km)</text>
<text transform="translate(273.94 84.00) rotate(-90)" font-size="13.80" text-anchor="middle">Azimuthal velocity (m/s)</text>
<text x="465.00" y="19.51" font-size="12.60" text-anchor="middle" fill="#111" class="k">(b)</text>
<rect x="339.1" y="114.5" width="134" height="31.3" fill="#fff" stroke="#555" stroke-width="0.9"/>
<line x1="342.2" x2="375.4" y1="123.6" y2="123.6" stroke="#e4000c" stroke-width="2.7"/>
<line x1="342.2" x2="375.4" y1="136.6" y2="136.6" stroke="#0404d2" stroke-width="2.7"/>
<text x="380.30" y="128.27" font-size="11.10" text-anchor="start">cyclonic vortex</text>
<text x="380.30" y="141.57" font-size="11.10" text-anchor="start">anticyclonic vortex</text>
<rect x="53.30" y="231.50" width="135.30" height="165.10" fill="#fff"/>
<g shape-rendering="crispEdges">
<rect x="107" y="231.50" width="1" height="165.10" fill="url(#c7)"/>
<rect x="108" y="231.50" width="1" height="165.10" fill="url(#c8)"/>
<rect x="109" y="231.50" width="1" height="165.10" fill="url(#c9)"/>
<rect x="110" y="231.50" width="1" height="165.10" fill="url(#c10)"/>
<rect x="111" y="231.50" width="1" height="165.10" fill="url(#c11)"/>
<rect x="112" y="231.50" width="1" height="165.10" fill="url(#c12)"/>
<rect x="113" y="231.50" width="1" height="165.10" fill="url(#c13)"/>
<rect x="114" y="231.50" width="1" height="165.10" fill="url(#c14)"/>
<rect x="115" y="231.50" width="1" height="165.10" fill="url(#c15)"/>
<rect x="116" y="231.50" width="1" height="165.10" fill="url(#c16)"/>
<rect x="117" y="231.50" width="1" height="165.10" fill="url(#c17)"/>
<rect x="118" y="231.50" width="1" height="165.10" fill="url(#c18)"/>
<rect x="119" y="231.50" width="1" height="165.10" fill="url(#c19)"/>
<rect x="120" y="231.50" width="1" height="165.10" fill="url(#c20)"/>
<rect x="121" y="231.50" width="1" height="165.10" fill="url(#c21)"/>
<rect x="122" y="231.50" width="1" height="165.10" fill="url(#c22)"/>
<rect x="123" y="231.50" width="1" height="165.10" fill="url(#c23)"/>
<rect x="124" y="231.50" width="1" height="165.10" fill="url(#c24)"/>
<rect x="125" y="231.50" width="1" height="165.10" fill="url(#c25)"/>
<rect x="126" y="231.50" width="1" height="165.10" fill="url(#c26)"/>
<rect x="127" y="231.50" width="1" height="165.10" fill="url(#c27)"/>
<rect x="128" y="231.50" width="1" height="165.10" fill="url(#c28)"/>
<rect x="129" y="231.50" width="1" height="165.10" fill="url(#c29)"/>
<rect x="130" y="231.50" width="1" height="165.10" fill="url(#c30)"/>
<rect x="131" y="231.50" width="1" height="165.10" fill="url(#c31)"/>
<rect x="132" y="231.50" width="1" height="165.10" fill="url(#c32)"/>
<rect x="133" y="231.50" width="1" height="165.10" fill="url(#c33)"/>
<rect x="134" y="231.50" width="1" height="165.10" fill="url(#c34)"/>
<rect x="135" y="231.50" width="1" height="165.10" fill="url(#c35)"/>
<rect x="136" y="231.50" width="1" height="165.10" fill="url(#c36)"/>
</g>
<rect x="53.30" y="231.50" width="135.30" height="165.10" fill="none" stroke="#0a0a0a" stroke-width="1.4"/>
<text x="70.60" y="414.57" font-size="12.20" text-anchor="middle">-600</text>
<text x="96.40" y="414.57" font-size="12.20" text-anchor="middle">-300</text>
<text x="121.90" y="414.57" font-size="12.20" text-anchor="middle">0</text>
<text x="147.40" y="414.57" font-size="12.20" text-anchor="middle">300</text>
<text x="173.30" y="414.57" font-size="12.20" text-anchor="middle">600</text>
<text x="47.60" y="235.97" font-size="12.20" text-anchor="end">0</text>
<text x="47.60" y="277.57" font-size="12.20" text-anchor="end">-500</text>
<text x="47.60" y="319.17" font-size="12.20" text-anchor="end">-1000</text>
<text x="47.60" y="360.77" font-size="12.20" text-anchor="end">-1500</text>
<text x="47.60" y="402.37" font-size="12.20" text-anchor="end">-2000</text>
<text x="121.30" y="432.34" font-size="13.80" text-anchor="middle">Y(km)</text>
<text transform="translate(11.54 313.00) rotate(-90)" font-size="13.80" text-anchor="middle">Depth (m)</text>
<text x="171.50" y="254.01" font-size="12.60" text-anchor="middle" fill="#111" class="k">(c)</text>
<rect x="196.80" y="231.60" width="13.20" height="165.70" fill="url(#cbc)" stroke="#3a3a3a" stroke-width="0.6"/>
<text x="215.20" y="236.07" font-size="11.10" text-anchor="start">0.5</text>
<text x="215.20" y="318.57" font-size="11.10" text-anchor="start">0</text>
<text x="215.20" y="401.77" font-size="11.10" text-anchor="start">-0.5</text>
<line x1="208.3" x2="210" y1="314.5" y2="314.5" stroke="#222" stroke-width="0.7"/>
<text x="204.00" y="411.37" font-size="11.10" text-anchor="middle">m/s</text>
<rect x="305.40" y="230.90" width="174.60" height="166.10" fill="#4745e9"/>
<g shape-rendering="crispEdges">
<rect x="373" y="231" width="1" height="166" fill="url(#d11)"/>
<rect x="374" y="231" width="1" height="166" fill="url(#d12)"/>
<rect x="375" y="231" width="1" height="166" fill="url(#d13)"/>
<rect x="376" y="231" width="1" height="166" fill="url(#d14)"/>
<rect x="377" y="231" width="1" height="166" fill="url(#d15)"/>
<rect x="378" y="231" width="1" height="166" fill="url(#d16)"/>
<rect x="379" y="231" width="1" height="166" fill="url(#d17)"/>
<rect x="380" y="231" width="1" height="166" fill="url(#d18)"/>
<rect x="381" y="231" width="1" height="166" fill="url(#d19)"/>
<rect x="382" y="231" width="1" height="166" fill="url(#d20)"/>
<rect x="383" y="231" width="1" height="166" fill="url(#d21)"/>
<rect x="384" y="231" width="1" height="166" fill="url(#d22)"/>
<rect x="385" y="231" width="1" height="166" fill="url(#d23)"/>
<rect x="386" y="231" width="1" height="166" fill="url(#d24)"/>
<rect x="387" y="231" width="1" height="166" fill="url(#d25)"/>
<rect x="388" y="231" width="1" height="166" fill="url(#d26)"/>
<rect x="389" y="231" width="1" height="166" fill="url(#d27)"/>
<rect x="390" y="231" width="1" height="166" fill="url(#d28)"/>
<rect x="391" y="231" width="1" height="166" fill="url(#d29)"/>
<rect x="392" y="231" width="1" height="166" fill="url(#d30)"/>
<rect x="393" y="231" width="1" height="166" fill="url(#d31)"/>
<rect x="394" y="231" width="1" height="166" fill="url(#d32)"/>
<rect x="395" y="231" width="1" height="166" fill="url(#d33)"/>
<rect x="396" y="231" width="1" height="166" fill="url(#d34)"/>
<rect x="397" y="231" width="1" height="166" fill="url(#d35)"/>
<rect x="398" y="231" width="1" height="166" fill="url(#d36)"/>
<rect x="399" y="231" width="1" height="166" fill="url(#d37)"/>
<rect x="400" y="231" width="1" height="166" fill="url(#d38)"/>
<rect x="401" y="231" width="1" height="166" fill="url(#d39)"/>
<rect x="402" y="231" width="1" height="166" fill="url(#d40)"/>
<rect x="403" y="231" width="1" height="166" fill="url(#d41)"/>
<rect x="404" y="231" width="1" height="166" fill="url(#d42)"/>
<rect x="405" y="231" width="1" height="166" fill="url(#d43)"/>
<rect x="406" y="231" width="1" height="166" fill="url(#d44)"/>
<rect x="407" y="231" width="1" height="166" fill="url(#d45)"/>
<rect x="408" y="231" width="1" height="166" fill="url(#d46)"/>
<rect x="409" y="231" width="1" height="166" fill="url(#d47)"/>
<rect x="410" y="231" width="1" height="166" fill="url(#d48)"/>
<rect x="411" y="231" width="1" height="166" fill="url(#d49)"/>
<rect x="412" y="231" width="1" height="166" fill="url(#d50)"/>
<rect x="413" y="231" width="1" height="166" fill="url(#d51)"/>
<rect x="414" y="231" width="1" height="166" fill="url(#d52)"/>
</g>
<text x="328.20" y="414.57" font-size="12.20" text-anchor="middle">-600</text>
<text x="361.50" y="414.57" font-size="12.20" text-anchor="middle">-300</text>
<text x="394.20" y="414.57" font-size="12.20" text-anchor="middle">0</text>
<text x="426.90" y="414.57" font-size="12.20" text-anchor="middle">300</text>
<text x="459.60" y="414.57" font-size="12.20" text-anchor="middle">600</text>
<text x="300.90" y="235.97" font-size="12.20" text-anchor="end">0</text>
<text x="300.90" y="277.57" font-size="12.20" text-anchor="end">-500</text>
<text x="300.90" y="319.17" font-size="12.20" text-anchor="end">-1000</text>
<text x="300.90" y="360.77" font-size="12.20" text-anchor="end">-1500</text>
<text x="300.90" y="402.37" font-size="12.20" text-anchor="end">-2000</text>
<text x="393.10" y="432.94" font-size="13.80" text-anchor="middle">Y(km)</text>
<text transform="translate(262.54 313.00) rotate(-90)" font-size="13.80" text-anchor="middle">Depth (m)</text>
<text x="457.30" y="254.41" font-size="12.60" text-anchor="middle" fill="#ffffff" class="w">(d)</text>
<rect x="487.30" y="241.30" width="13.20" height="145.50" fill="url(#cbd)" stroke="#3a3a3a" stroke-width="0.6"/>
<text x="504.30" y="249.87" font-size="11.10" text-anchor="start">1</text>
<line  x1="498.8" x2="500.5" y1="245.90" y2="245.90" stroke="#222" stroke-width="0.7"/>
<text x="504.30" y="274.87" font-size="11.10" text-anchor="start">0.8</text>
<line  x1="498.8" x2="500.5" y1="270.90" y2="270.90" stroke="#222" stroke-width="0.7"/>
<text x="504.30" y="299.77" font-size="11.10" text-anchor="start">0.6</text>
<line  x1="498.8" x2="500.5" y1="295.80" y2="295.80" stroke="#222" stroke-width="0.7"/>
<text x="504.30" y="324.77" font-size="11.10" text-anchor="start">0.4</text>
<line  x1="498.8" x2="500.5" y1="320.80" y2="320.80" stroke="#222" stroke-width="0.7"/>
<text x="504.30" y="349.67" font-size="11.10" text-anchor="start">0.2</text>
<line  x1="498.8" x2="500.5" y1="345.70" y2="345.70" stroke="#222" stroke-width="0.7"/>
<text x="504.30" y="374.67" font-size="11.10" text-anchor="start">0</text>
<line  x1="498.8" x2="500.5" y1="370.70" y2="370.70" stroke="#222" stroke-width="0.7"/>
<text x="487.0" y="398.6" font-size="8.6">o</text><text x="494.6" y="402.8" font-size="11.10">C</text>
</svg>
</body></html>
